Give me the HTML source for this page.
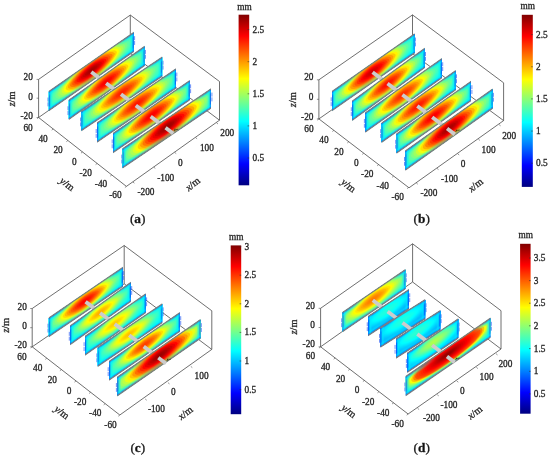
<!DOCTYPE html>
<html><head><meta charset="utf-8"><title>figure</title>
<style>html,body{margin:0;padding:0;background:#fff}svg{display:block}text{font-family:"Liberation Serif",serif;fill:#262626;stroke:#262626;stroke-width:.3px}</style>
</head><body>
<svg width="550" height="458" viewBox="0 0 550 458">
<rect width="550" height="458" fill="#fff"/>
<defs>
<polygon id="se18" points="1.000,0.000 0.986,0.120 0.944,0.261 0.876,0.406 0.785,0.545 0.673,0.673 0.545,0.785 0.406,0.876 0.261,0.944 0.120,0.986 0.000,1.000 -0.120,0.986 -0.261,0.944 -0.406,0.876 -0.545,0.785 -0.673,0.673 -0.785,0.545 -0.876,0.406 -0.944,0.261 -0.986,0.120 -1.000,0.000 -0.986,-0.120 -0.944,-0.261 -0.876,-0.406 -0.785,-0.545 -0.673,-0.673 -0.545,-0.785 -0.406,-0.876 -0.261,-0.944 -0.120,-0.986 -0.000,-1.000 0.120,-0.986 0.261,-0.944 0.406,-0.876 0.545,-0.785 0.673,-0.673 0.785,-0.545 0.876,-0.406 0.944,-0.261 0.986,-0.120"/>
<polygon id="se22" points="1.000,0.000 0.989,0.185 0.955,0.344 0.900,0.488 0.825,0.617 0.730,0.730 0.617,0.825 0.488,0.900 0.344,0.955 0.185,0.989 0.000,1.000 -0.185,0.989 -0.344,0.955 -0.488,0.900 -0.617,0.825 -0.730,0.730 -0.825,0.617 -0.900,0.488 -0.955,0.344 -0.989,0.185 -1.000,0.000 -0.989,-0.185 -0.955,-0.344 -0.900,-0.488 -0.825,-0.617 -0.730,-0.730 -0.617,-0.825 -0.488,-0.900 -0.344,-0.955 -0.185,-0.989 -0.000,-1.000 0.185,-0.989 0.344,-0.955 0.488,-0.900 0.617,-0.825 0.730,-0.730 0.825,-0.617 0.900,-0.488 0.955,-0.344 0.989,-0.185"/>
<linearGradient id="rt0" x1="0" y1="0" x2="1" y2="0"><stop offset="0" stop-color="#0048ff" stop-opacity="1"/><stop offset="0.18" stop-color="#0048ff" stop-opacity="0.7"/><stop offset="0.36" stop-color="#0048ff" stop-opacity="0"/><stop offset="0.80" stop-color="#0048ff" stop-opacity="0"/><stop offset="0.92" stop-color="#0048ff" stop-opacity="0.7"/><stop offset="1" stop-color="#0048ff" stop-opacity="1"/></linearGradient>
<linearGradient id="rb0" x1="0" y1="0" x2="1" y2="0"><stop offset="0" stop-color="#0048ff" stop-opacity="1"/><stop offset="0.2" stop-color="#0048ff" stop-opacity="0.8"/><stop offset="0.45" stop-color="#0048ff" stop-opacity="0.4"/><stop offset="0.62" stop-color="#0048ff" stop-opacity="0.4"/><stop offset="0.85" stop-color="#0048ff" stop-opacity="0.8"/><stop offset="1" stop-color="#0048ff" stop-opacity="1"/></linearGradient>
<linearGradient id="rt1" x1="0" y1="0" x2="1" y2="0"><stop offset="0" stop-color="#00a0ff" stop-opacity="1"/><stop offset="0.18" stop-color="#00a0ff" stop-opacity="0.7"/><stop offset="0.36" stop-color="#00a0ff" stop-opacity="0"/><stop offset="0.80" stop-color="#00a0ff" stop-opacity="0"/><stop offset="0.92" stop-color="#00a0ff" stop-opacity="0.7"/><stop offset="1" stop-color="#00a0ff" stop-opacity="1"/></linearGradient>
<linearGradient id="rb1" x1="0" y1="0" x2="1" y2="0"><stop offset="0" stop-color="#00a0ff" stop-opacity="1"/><stop offset="0.2" stop-color="#00a0ff" stop-opacity="0.8"/><stop offset="0.45" stop-color="#00a0ff" stop-opacity="0.4"/><stop offset="0.62" stop-color="#00a0ff" stop-opacity="0.4"/><stop offset="0.85" stop-color="#00a0ff" stop-opacity="0.8"/><stop offset="1" stop-color="#00a0ff" stop-opacity="1"/></linearGradient>
<linearGradient id="rt2" x1="0" y1="0" x2="1" y2="0"><stop offset="0" stop-color="#00ecff" stop-opacity="1"/><stop offset="0.18" stop-color="#00ecff" stop-opacity="0.7"/><stop offset="0.36" stop-color="#00ecff" stop-opacity="0"/><stop offset="0.80" stop-color="#00ecff" stop-opacity="0"/><stop offset="0.92" stop-color="#00ecff" stop-opacity="0.7"/><stop offset="1" stop-color="#00ecff" stop-opacity="1"/></linearGradient>
<linearGradient id="rb2" x1="0" y1="0" x2="1" y2="0"><stop offset="0" stop-color="#00ecff" stop-opacity="1"/><stop offset="0.2" stop-color="#00ecff" stop-opacity="0.8"/><stop offset="0.45" stop-color="#00ecff" stop-opacity="0.4"/><stop offset="0.62" stop-color="#00ecff" stop-opacity="0.4"/><stop offset="0.85" stop-color="#00ecff" stop-opacity="0.8"/><stop offset="1" stop-color="#00ecff" stop-opacity="1"/></linearGradient>
<clipPath id="c1"><rect x="0" y="0" width="103.31" height="19.00"/></clipPath>
<clipPath id="c2"><rect x="0" y="0" width="92.85" height="19.00"/></clipPath>
<clipPath id="c3"><rect x="0" y="0" width="97.24" height="19.00"/></clipPath>
<clipPath id="c4"><rect x="0" y="0" width="95.58" height="19.00"/></clipPath>
<clipPath id="c5"><rect x="0" y="0" width="92.98" height="19.00"/></clipPath>
<clipPath id="c6"><rect x="0" y="0" width="106.59" height="19.00"/></clipPath>
<linearGradient id="g7" x1="0" y1="0" x2="0" y2="1"><stop offset="0.0000" stop-color="#800000"/><stop offset="0.0625" stop-color="#bf0000"/><stop offset="0.1250" stop-color="#ff0000"/><stop offset="0.1875" stop-color="#ff4000"/><stop offset="0.2500" stop-color="#ff8000"/><stop offset="0.3125" stop-color="#ffbf00"/><stop offset="0.3750" stop-color="#ffff00"/><stop offset="0.4375" stop-color="#bfff40"/><stop offset="0.5000" stop-color="#80ff80"/><stop offset="0.5625" stop-color="#40ffbf"/><stop offset="0.6250" stop-color="#00ffff"/><stop offset="0.6875" stop-color="#00bfff"/><stop offset="0.7500" stop-color="#0080ff"/><stop offset="0.8125" stop-color="#0040ff"/><stop offset="0.8750" stop-color="#0000ff"/><stop offset="0.9375" stop-color="#0000bf"/><stop offset="1.0000" stop-color="#000080"/></linearGradient>
<clipPath id="c8"><rect x="0" y="0" width="100.42" height="19.00"/></clipPath>
<clipPath id="c9"><rect x="0" y="0" width="89.61" height="19.00"/></clipPath>
<clipPath id="c10"><rect x="0" y="0" width="93.81" height="19.00"/></clipPath>
<clipPath id="c11"><rect x="0" y="0" width="90.67" height="19.00"/></clipPath>
<clipPath id="c12"><rect x="0" y="0" width="90.94" height="19.00"/></clipPath>
<clipPath id="c13"><rect x="0" y="0" width="106.74" height="19.00"/></clipPath>
<linearGradient id="g14" x1="0" y1="0" x2="0" y2="1"><stop offset="0.0000" stop-color="#800000"/><stop offset="0.0625" stop-color="#bf0000"/><stop offset="0.1250" stop-color="#ff0000"/><stop offset="0.1875" stop-color="#ff4000"/><stop offset="0.2500" stop-color="#ff8000"/><stop offset="0.3125" stop-color="#ffbf00"/><stop offset="0.3750" stop-color="#ffff00"/><stop offset="0.4375" stop-color="#bfff40"/><stop offset="0.5000" stop-color="#80ff80"/><stop offset="0.5625" stop-color="#40ffbf"/><stop offset="0.6250" stop-color="#00ffff"/><stop offset="0.6875" stop-color="#00bfff"/><stop offset="0.7500" stop-color="#0080ff"/><stop offset="0.8125" stop-color="#0040ff"/><stop offset="0.8750" stop-color="#0000ff"/><stop offset="0.9375" stop-color="#0000bf"/><stop offset="1.0000" stop-color="#000080"/></linearGradient>
<clipPath id="c15"><rect x="0" y="0" width="89.39" height="18.60"/></clipPath>
<clipPath id="c16"><rect x="0" y="0" width="74.54" height="18.60"/></clipPath>
<clipPath id="c17"><rect x="0" y="0" width="74.10" height="18.60"/></clipPath>
<clipPath id="c18"><rect x="0" y="0" width="77.83" height="18.60"/></clipPath>
<clipPath id="c19"><rect x="0" y="0" width="85.85" height="18.60"/></clipPath>
<clipPath id="c20"><rect x="0" y="0" width="101.05" height="18.60"/></clipPath>
<linearGradient id="g21" x1="0" y1="0" x2="0" y2="1"><stop offset="0.0000" stop-color="#800000"/><stop offset="0.0625" stop-color="#bf0000"/><stop offset="0.1250" stop-color="#ff0000"/><stop offset="0.1875" stop-color="#ff4000"/><stop offset="0.2500" stop-color="#ff8000"/><stop offset="0.3125" stop-color="#ffbf00"/><stop offset="0.3750" stop-color="#ffff00"/><stop offset="0.4375" stop-color="#bfff40"/><stop offset="0.5000" stop-color="#80ff80"/><stop offset="0.5625" stop-color="#40ffbf"/><stop offset="0.6250" stop-color="#00ffff"/><stop offset="0.6875" stop-color="#00bfff"/><stop offset="0.7500" stop-color="#0080ff"/><stop offset="0.8125" stop-color="#0040ff"/><stop offset="0.8750" stop-color="#0000ff"/><stop offset="0.9375" stop-color="#0000bf"/><stop offset="1.0000" stop-color="#000080"/></linearGradient>
<clipPath id="c22"><rect x="0" y="0" width="75.80" height="19.00"/></clipPath>
<clipPath id="c23"><rect x="0" y="0" width="48.59" height="19.00"/></clipPath>
<clipPath id="c24"><rect x="0" y="0" width="52.82" height="19.00"/></clipPath>
<clipPath id="c25"><rect x="0" y="0" width="52.48" height="19.00"/></clipPath>
<clipPath id="c26"><rect x="0" y="0" width="61.32" height="19.00"/></clipPath>
<clipPath id="c27"><rect x="0" y="0" width="102.74" height="19.00"/></clipPath>
<linearGradient id="g28" x1="0" y1="0" x2="0" y2="1"><stop offset="0.0000" stop-color="#800000"/><stop offset="0.0625" stop-color="#bf0000"/><stop offset="0.1250" stop-color="#ff0000"/><stop offset="0.1875" stop-color="#ff4000"/><stop offset="0.2500" stop-color="#ff8000"/><stop offset="0.3125" stop-color="#ffbf00"/><stop offset="0.3750" stop-color="#ffff00"/><stop offset="0.4375" stop-color="#bfff40"/><stop offset="0.5000" stop-color="#80ff80"/><stop offset="0.5625" stop-color="#40ffbf"/><stop offset="0.6250" stop-color="#00ffff"/><stop offset="0.6875" stop-color="#00bfff"/><stop offset="0.7500" stop-color="#0080ff"/><stop offset="0.8125" stop-color="#0040ff"/><stop offset="0.8750" stop-color="#0000ff"/><stop offset="0.9375" stop-color="#0000bf"/><stop offset="1.0000" stop-color="#000080"/></linearGradient>
</defs>
<line x1="38.60" y1="79.40" x2="130.30" y2="15.05" stroke="#4a4a4a" stroke-width="0.8"/>
<line x1="130.30" y1="15.05" x2="219.50" y2="81.50" stroke="#4a4a4a" stroke-width="0.8"/>
<line x1="38.60" y1="79.40" x2="38.60" y2="117.50" stroke="#4a4a4a" stroke-width="0.8"/>
<line x1="130.30" y1="15.05" x2="130.30" y2="53.30" stroke="#4a4a4a" stroke-width="0.8"/>
<line x1="219.50" y1="81.50" x2="219.50" y2="120.20" stroke="#4a4a4a" stroke-width="0.8"/>
<line x1="38.60" y1="117.50" x2="130.30" y2="53.30" stroke="#4a4a4a" stroke-width="0.8"/>
<line x1="130.30" y1="53.30" x2="219.50" y2="120.20" stroke="#4a4a4a" stroke-width="0.8"/>
<line x1="38.60" y1="117.50" x2="126.40" y2="186.40" stroke="#4a4a4a" stroke-width="0.8"/>
<line x1="126.40" y1="186.40" x2="219.50" y2="120.20" stroke="#4a4a4a" stroke-width="0.8"/>
<line x1="132.90" y1="182.00" x2="134.40" y2="183.20" stroke="#4a4a4a" stroke-width="0.6"/>
<line x1="153.80" y1="167.20" x2="155.30" y2="168.40" stroke="#4a4a4a" stroke-width="0.6"/>
<line x1="174.70" y1="152.40" x2="176.20" y2="153.60" stroke="#4a4a4a" stroke-width="0.6"/>
<line x1="195.60" y1="137.60" x2="197.10" y2="138.80" stroke="#4a4a4a" stroke-width="0.6"/>
<line x1="216.50" y1="122.80" x2="218.00" y2="124.00" stroke="#4a4a4a" stroke-width="0.6"/>
<line x1="38.60" y1="117.50" x2="37.10" y2="118.70" stroke="#4a4a4a" stroke-width="0.6"/>
<line x1="53.23" y1="128.98" x2="51.73" y2="130.18" stroke="#4a4a4a" stroke-width="0.6"/>
<line x1="67.86" y1="140.46" x2="66.36" y2="141.66" stroke="#4a4a4a" stroke-width="0.6"/>
<line x1="82.49" y1="151.94" x2="80.99" y2="153.14" stroke="#4a4a4a" stroke-width="0.6"/>
<line x1="97.12" y1="163.42" x2="95.62" y2="164.62" stroke="#4a4a4a" stroke-width="0.6"/>
<line x1="111.75" y1="174.90" x2="110.25" y2="176.10" stroke="#4a4a4a" stroke-width="0.6"/>
<line x1="126.38" y1="186.38" x2="124.88" y2="187.58" stroke="#4a4a4a" stroke-width="0.6"/>
<line x1="38.60" y1="79.40" x2="36.60" y2="79.40" stroke="#4a4a4a" stroke-width="0.6"/>
<line x1="38.60" y1="98.20" x2="36.60" y2="98.20" stroke="#4a4a4a" stroke-width="0.6"/>
<line x1="38.60" y1="117.50" x2="36.60" y2="117.50" stroke="#4a4a4a" stroke-width="0.6"/>
<g transform="matrix(0.82087 -0.57112 0 1 48.90 91.60)">
<rect x="0" y="0" width="103.31" height="19.00" fill="#05fffa"/>
<g clip-path="url(#c1)">
<use href="#se18" transform="matrix(72.47 0 -3.59 23.91 51.65 8.30)" fill="#07fff8"/>
<use href="#se18" transform="matrix(69.88 0 -3.46 23.06 51.65 8.30)" fill="#0afff5"/>
<use href="#se18" transform="matrix(67.29 0 -3.33 22.21 51.65 8.30)" fill="#0dfff2"/>
<use href="#se18" transform="matrix(64.70 0 -3.20 21.35 51.65 8.30)" fill="#10ffef"/>
<use href="#se18" transform="matrix(62.12 0 -3.07 20.50 51.65 8.30)" fill="#17ffe8"/>
<use href="#se18" transform="matrix(59.53 0 -2.95 19.64 51.65 8.30)" fill="#1effe1"/>
<use href="#se18" transform="matrix(56.94 0 -2.82 18.79 51.65 8.30)" fill="#26ffd9"/>
<use href="#se18" transform="matrix(54.35 0 -2.69 17.94 51.65 8.30)" fill="#2effd1"/>
<use href="#se18" transform="matrix(51.76 0 -2.56 17.08 51.65 8.30)" fill="#3cffc3"/>
<use href="#se18" transform="matrix(49.17 0 -2.43 16.23 51.65 8.30)" fill="#4bffb4"/>
<use href="#se18" transform="matrix(46.59 0 -2.31 15.37 51.65 8.30)" fill="#5bffa4"/>
<use href="#se18" transform="matrix(44.00 0 -2.18 14.52 51.65 8.30)" fill="#73ff8c"/>
<use href="#se18" transform="matrix(41.41 0 -2.05 13.67 51.65 8.30)" fill="#8fff70"/>
<use href="#se18" transform="matrix(38.82 0 -1.92 12.81 51.65 8.30)" fill="#adff52"/>
<use href="#se18" transform="matrix(36.23 0 -1.79 11.96 51.65 8.30)" fill="#d5ff2a"/>
<use href="#se18" transform="matrix(33.65 0 -1.67 11.10 51.65 8.30)" fill="#fdff02"/>
<use href="#se18" transform="matrix(31.06 0 -1.54 10.25 51.65 8.30)" fill="#ffd600"/>
<use href="#se18" transform="matrix(28.47 0 -1.41 9.39 51.65 8.30)" fill="#ffa900"/>
<use href="#se18" transform="matrix(25.88 0 -1.28 8.54 51.65 8.30)" fill="#ff7c00"/>
<use href="#se18" transform="matrix(23.29 0 -1.15 7.69 51.65 8.30)" fill="#ff5800"/>
<use href="#se18" transform="matrix(20.71 0 -1.02 6.83 51.65 8.30)" fill="#ff3400"/>
<use href="#se18" transform="matrix(18.12 0 -0.90 5.98 51.65 8.30)" fill="#ff1000"/>
<use href="#se18" transform="matrix(15.53 0 -0.77 5.12 51.65 8.30)" fill="#f50000"/>
<use href="#se18" transform="matrix(12.94 0 -0.64 4.27 51.65 8.30)" fill="#db0000"/>
<use href="#se18" transform="matrix(10.35 0 -0.51 3.42 51.65 8.30)" fill="#c80000"/>
<use href="#se18" transform="matrix(7.76 0 -0.38 2.56 51.65 8.30)" fill="#b60000"/>
<use href="#se18" transform="matrix(5.18 0 -0.26 1.71 51.65 8.30)" fill="#ac0000"/>
<use href="#se18" transform="matrix(2.59 0 -0.13 0.85 51.65 8.30)" fill="#a30000"/>
</g>
<rect x="0.00" y="0" width="1.00" height="19.00" fill="#0048ff" fill-opacity="0.95"/>
<rect x="102.31" y="0" width="1.00" height="19.00" fill="#0048ff" fill-opacity="0.95"/>
<rect x="0" y="0.00" width="103.31" height="1.00" fill="url(#rt0)" fill-opacity="0.95"/>
<rect x="0" y="18.00" width="103.31" height="1.00" fill="url(#rb0)" fill-opacity="0.95"/>
<rect x="1.00" y="0" width="1.00" height="19.00" fill="#00a0ff" fill-opacity="0.80"/>
<rect x="101.31" y="0" width="1.00" height="19.00" fill="#00a0ff" fill-opacity="0.80"/>
<rect x="0" y="1.00" width="103.31" height="1.00" fill="url(#rt1)" fill-opacity="0.80"/>
<rect x="0" y="17.00" width="103.31" height="1.00" fill="url(#rb1)" fill-opacity="0.80"/>
<rect x="2.00" y="0" width="1.10" height="19.00" fill="#00ecff" fill-opacity="0.60"/>
<rect x="100.21" y="0" width="1.10" height="19.00" fill="#00ecff" fill-opacity="0.60"/>
<rect x="0" y="2.00" width="103.31" height="1.10" fill="url(#rt2)" fill-opacity="0.60"/>
<rect x="0" y="15.90" width="103.31" height="1.10" fill="url(#rb2)" fill-opacity="0.60"/>
<rect x="3.10" y="0" width="1.20" height="19.00" fill="#00ecff" fill-opacity="0.28"/>
<rect x="99.01" y="0" width="1.20" height="19.00" fill="#00ecff" fill-opacity="0.28"/>
<rect x="0" y="3.10" width="103.31" height="1.20" fill="url(#rt2)" fill-opacity="0.28"/>
<rect x="0" y="14.70" width="103.31" height="1.20" fill="url(#rb2)" fill-opacity="0.28"/>
<line x1="-1.1" y1="5.32" x2="-1.1" y2="14.82" stroke="#2458f5" stroke-width="0.8" stroke-dasharray="4 0.8" stroke-opacity="0.8"/>
<line x1="104.41" y1="4.18" x2="104.41" y2="13.68" stroke="#2458f5" stroke-width="0.8" stroke-dasharray="4 0.8" stroke-opacity="0.8"/>
<line x1="0" y1="0" x2="103.31" y2="0" stroke="#7e7e7e" stroke-width="1.5"/>
<line x1="0" y1="19.00" x2="103.31" y2="19.00" stroke="#7e7e7e" stroke-width="1.5"/>
</g>
<line x1="91.30" y1="72.00" x2="106.18" y2="83.16" stroke="#cccccc" stroke-width="3.8"/>
<g transform="matrix(0.81424 -0.58052 0 1 68.90 100.30)">
<rect x="0" y="0" width="92.85" height="19.00" fill="#05fffa"/>
<g clip-path="url(#c2)">
<use href="#se18" transform="matrix(68.90 0 -3.41 22.74 45.75 8.30)" fill="#06fff9"/>
<use href="#se18" transform="matrix(66.44 0 -3.29 21.93 45.75 8.30)" fill="#09fff6"/>
<use href="#se18" transform="matrix(63.98 0 -3.17 21.11 45.75 8.30)" fill="#0cfff3"/>
<use href="#se18" transform="matrix(61.52 0 -3.05 20.30 45.75 8.30)" fill="#0ffff0"/>
<use href="#se18" transform="matrix(59.06 0 -2.92 19.49 45.75 8.30)" fill="#14ffeb"/>
<use href="#se18" transform="matrix(56.60 0 -2.80 18.68 45.75 8.30)" fill="#1bffe4"/>
<use href="#se18" transform="matrix(54.14 0 -2.68 17.87 45.75 8.30)" fill="#22ffdd"/>
<use href="#se18" transform="matrix(51.68 0 -2.56 17.05 45.75 8.30)" fill="#29ffd6"/>
<use href="#se18" transform="matrix(49.22 0 -2.44 16.24 45.75 8.30)" fill="#35ffca"/>
<use href="#se18" transform="matrix(46.76 0 -2.31 15.43 45.75 8.30)" fill="#42ffbd"/>
<use href="#se18" transform="matrix(44.30 0 -2.19 14.62 45.75 8.30)" fill="#4fffb0"/>
<use href="#se18" transform="matrix(41.83 0 -2.07 13.81 45.75 8.30)" fill="#64ff9b"/>
<use href="#se18" transform="matrix(39.37 0 -1.95 12.99 45.75 8.30)" fill="#7cff83"/>
<use href="#se18" transform="matrix(36.91 0 -1.83 12.18 45.75 8.30)" fill="#96ff69"/>
<use href="#se18" transform="matrix(34.45 0 -1.71 11.37 45.75 8.30)" fill="#b9ff46"/>
<use href="#se18" transform="matrix(31.99 0 -1.58 10.56 45.75 8.30)" fill="#dcff23"/>
<use href="#se18" transform="matrix(29.53 0 -1.46 9.74 45.75 8.30)" fill="#fffd00"/>
<use href="#se18" transform="matrix(27.07 0 -1.34 8.93 45.75 8.30)" fill="#ffd600"/>
<use href="#se18" transform="matrix(24.61 0 -1.22 8.12 45.75 8.30)" fill="#ffb000"/>
<use href="#se18" transform="matrix(22.15 0 -1.10 7.31 45.75 8.30)" fill="#ff9100"/>
<use href="#se18" transform="matrix(19.69 0 -0.97 6.50 45.75 8.30)" fill="#ff7200"/>
<use href="#se18" transform="matrix(17.23 0 -0.85 5.68 45.75 8.30)" fill="#ff5300"/>
<use href="#se18" transform="matrix(14.77 0 -0.73 4.87 45.75 8.30)" fill="#ff3c00"/>
<use href="#se18" transform="matrix(12.30 0 -0.61 4.06 45.75 8.30)" fill="#ff2600"/>
<use href="#se18" transform="matrix(9.84 0 -0.49 3.25 45.75 8.30)" fill="#ff1500"/>
<use href="#se18" transform="matrix(7.38 0 -0.37 2.44 45.75 8.30)" fill="#ff0500"/>
<use href="#se18" transform="matrix(4.92 0 -0.24 1.62 45.75 8.30)" fill="#fc0000"/>
<use href="#se18" transform="matrix(2.46 0 -0.12 0.81 45.75 8.30)" fill="#f40000"/>
</g>
<rect x="0.00" y="0" width="1.00" height="19.00" fill="#0048ff" fill-opacity="0.95"/>
<rect x="91.85" y="0" width="1.00" height="19.00" fill="#0048ff" fill-opacity="0.95"/>
<rect x="0" y="0.00" width="92.85" height="1.00" fill="url(#rt0)" fill-opacity="0.95"/>
<rect x="0" y="18.00" width="92.85" height="1.00" fill="url(#rb0)" fill-opacity="0.95"/>
<rect x="1.00" y="0" width="1.00" height="19.00" fill="#00a0ff" fill-opacity="0.80"/>
<rect x="90.85" y="0" width="1.00" height="19.00" fill="#00a0ff" fill-opacity="0.80"/>
<rect x="0" y="1.00" width="92.85" height="1.00" fill="url(#rt1)" fill-opacity="0.80"/>
<rect x="0" y="17.00" width="92.85" height="1.00" fill="url(#rb1)" fill-opacity="0.80"/>
<rect x="2.00" y="0" width="1.10" height="19.00" fill="#00ecff" fill-opacity="0.60"/>
<rect x="89.75" y="0" width="1.10" height="19.00" fill="#00ecff" fill-opacity="0.60"/>
<rect x="0" y="2.00" width="92.85" height="1.10" fill="url(#rt2)" fill-opacity="0.60"/>
<rect x="0" y="15.90" width="92.85" height="1.10" fill="url(#rb2)" fill-opacity="0.60"/>
<rect x="3.10" y="0" width="1.20" height="19.00" fill="#00ecff" fill-opacity="0.28"/>
<rect x="88.55" y="0" width="1.20" height="19.00" fill="#00ecff" fill-opacity="0.28"/>
<rect x="0" y="3.10" width="92.85" height="1.20" fill="url(#rt2)" fill-opacity="0.28"/>
<rect x="0" y="14.70" width="92.85" height="1.20" fill="url(#rb2)" fill-opacity="0.28"/>
<line x1="-1.1" y1="5.32" x2="-1.1" y2="14.82" stroke="#2458f5" stroke-width="0.8" stroke-dasharray="4 0.8" stroke-opacity="0.8"/>
<line x1="93.95" y1="4.18" x2="93.95" y2="13.68" stroke="#2458f5" stroke-width="0.8" stroke-dasharray="4 0.8" stroke-opacity="0.8"/>
<line x1="0" y1="0" x2="92.85" y2="0" stroke="#7e7e7e" stroke-width="1.5"/>
<line x1="0" y1="19.00" x2="92.85" y2="19.00" stroke="#7e7e7e" stroke-width="1.5"/>
</g>
<line x1="106.15" y1="83.15" x2="121.03" y2="94.31" stroke="#cccccc" stroke-width="3.8"/>
<g transform="matrix(0.82887 -0.55944 0 1 81.50 111.60)">
<rect x="0" y="0" width="97.24" height="19.00" fill="#05fffa"/>
<g clip-path="url(#c3)">
<use href="#se18" transform="matrix(70.09 0 -3.47 23.13 48.66 8.30)" fill="#06fff9"/>
<use href="#se18" transform="matrix(67.59 0 -3.35 22.30 48.66 8.30)" fill="#09fff6"/>
<use href="#se18" transform="matrix(65.09 0 -3.22 21.48 48.66 8.30)" fill="#0bfff4"/>
<use href="#se18" transform="matrix(62.58 0 -3.10 20.65 48.66 8.30)" fill="#0efff1"/>
<use href="#se18" transform="matrix(60.08 0 -2.97 19.83 48.66 8.30)" fill="#13ffec"/>
<use href="#se18" transform="matrix(57.58 0 -2.85 19.00 48.66 8.30)" fill="#19ffe6"/>
<use href="#se18" transform="matrix(55.07 0 -2.73 18.17 48.66 8.30)" fill="#20ffdf"/>
<use href="#se18" transform="matrix(52.57 0 -2.60 17.35 48.66 8.30)" fill="#26ffd9"/>
<use href="#se18" transform="matrix(50.07 0 -2.48 16.52 48.66 8.30)" fill="#31ffce"/>
<use href="#se18" transform="matrix(47.56 0 -2.35 15.70 48.66 8.30)" fill="#3dffc2"/>
<use href="#se18" transform="matrix(45.06 0 -2.23 14.87 48.66 8.30)" fill="#49ffb6"/>
<use href="#se18" transform="matrix(42.56 0 -2.11 14.04 48.66 8.30)" fill="#5cffa3"/>
<use href="#se18" transform="matrix(40.05 0 -1.98 13.22 48.66 8.30)" fill="#73ff8c"/>
<use href="#se18" transform="matrix(37.55 0 -1.86 12.39 48.66 8.30)" fill="#8bff74"/>
<use href="#se18" transform="matrix(35.05 0 -1.73 11.57 48.66 8.30)" fill="#abff54"/>
<use href="#se18" transform="matrix(32.54 0 -1.61 10.74 48.66 8.30)" fill="#cbff34"/>
<use href="#se18" transform="matrix(30.04 0 -1.49 9.91 48.66 8.30)" fill="#edff12"/>
<use href="#se18" transform="matrix(27.54 0 -1.36 9.09 48.66 8.30)" fill="#ffed00"/>
<use href="#se18" transform="matrix(25.03 0 -1.24 8.26 48.66 8.30)" fill="#ffca00"/>
<use href="#se18" transform="matrix(22.53 0 -1.12 7.43 48.66 8.30)" fill="#ffad00"/>
<use href="#se18" transform="matrix(20.03 0 -0.99 6.61 48.66 8.30)" fill="#ff9000"/>
<use href="#se18" transform="matrix(17.52 0 -0.87 5.78 48.66 8.30)" fill="#ff7400"/>
<use href="#se18" transform="matrix(15.02 0 -0.74 4.96 48.66 8.30)" fill="#ff5e00"/>
<use href="#se18" transform="matrix(12.52 0 -0.62 4.13 48.66 8.30)" fill="#ff4a00"/>
<use href="#se18" transform="matrix(10.01 0 -0.50 3.30 48.66 8.30)" fill="#ff3b00"/>
<use href="#se18" transform="matrix(7.51 0 -0.37 2.48 48.66 8.30)" fill="#ff2c00"/>
<use href="#se18" transform="matrix(5.01 0 -0.25 1.65 48.66 8.30)" fill="#ff2500"/>
<use href="#se18" transform="matrix(2.50 0 -0.12 0.83 48.66 8.30)" fill="#ff1d00"/>
</g>
<rect x="0.00" y="0" width="1.00" height="19.00" fill="#0048ff" fill-opacity="0.95"/>
<rect x="96.24" y="0" width="1.00" height="19.00" fill="#0048ff" fill-opacity="0.95"/>
<rect x="0" y="0.00" width="97.24" height="1.00" fill="url(#rt0)" fill-opacity="0.95"/>
<rect x="0" y="18.00" width="97.24" height="1.00" fill="url(#rb0)" fill-opacity="0.95"/>
<rect x="1.00" y="0" width="1.00" height="19.00" fill="#00a0ff" fill-opacity="0.80"/>
<rect x="95.24" y="0" width="1.00" height="19.00" fill="#00a0ff" fill-opacity="0.80"/>
<rect x="0" y="1.00" width="97.24" height="1.00" fill="url(#rt1)" fill-opacity="0.80"/>
<rect x="0" y="17.00" width="97.24" height="1.00" fill="url(#rb1)" fill-opacity="0.80"/>
<rect x="2.00" y="0" width="1.10" height="19.00" fill="#00ecff" fill-opacity="0.60"/>
<rect x="94.14" y="0" width="1.10" height="19.00" fill="#00ecff" fill-opacity="0.60"/>
<rect x="0" y="2.00" width="97.24" height="1.10" fill="url(#rt2)" fill-opacity="0.60"/>
<rect x="0" y="15.90" width="97.24" height="1.10" fill="url(#rb2)" fill-opacity="0.60"/>
<rect x="3.10" y="0" width="1.20" height="19.00" fill="#00ecff" fill-opacity="0.28"/>
<rect x="92.94" y="0" width="1.20" height="19.00" fill="#00ecff" fill-opacity="0.28"/>
<rect x="0" y="3.10" width="97.24" height="1.20" fill="url(#rt2)" fill-opacity="0.28"/>
<rect x="0" y="14.70" width="97.24" height="1.20" fill="url(#rb2)" fill-opacity="0.28"/>
<line x1="-1.1" y1="5.32" x2="-1.1" y2="14.82" stroke="#2458f5" stroke-width="0.8" stroke-dasharray="4 0.8" stroke-opacity="0.8"/>
<line x1="98.34" y1="4.18" x2="98.34" y2="13.68" stroke="#2458f5" stroke-width="0.8" stroke-dasharray="4 0.8" stroke-opacity="0.8"/>
<line x1="0" y1="0" x2="97.24" y2="0" stroke="#7e7e7e" stroke-width="1.5"/>
<line x1="0" y1="19.00" x2="97.24" y2="19.00" stroke="#7e7e7e" stroke-width="1.5"/>
</g>
<line x1="121.00" y1="94.30" x2="135.88" y2="105.46" stroke="#cccccc" stroke-width="3.8"/>
<g transform="matrix(0.82441 -0.56600 0 1 97.10 123.10)">
<rect x="0" y="0" width="95.58" height="19.00" fill="#05fffa"/>
<g clip-path="url(#c4)">
<use href="#se18" transform="matrix(70.09 0 -3.47 23.13 48.00 8.30)" fill="#06fff9"/>
<use href="#se18" transform="matrix(67.59 0 -3.35 22.30 48.00 8.30)" fill="#09fff6"/>
<use href="#se18" transform="matrix(65.09 0 -3.22 21.48 48.00 8.30)" fill="#0cfff3"/>
<use href="#se18" transform="matrix(62.58 0 -3.10 20.65 48.00 8.30)" fill="#0efff1"/>
<use href="#se18" transform="matrix(60.08 0 -2.97 19.83 48.00 8.30)" fill="#13ffec"/>
<use href="#se18" transform="matrix(57.58 0 -2.85 19.00 48.00 8.30)" fill="#1affe5"/>
<use href="#se18" transform="matrix(55.07 0 -2.73 18.17 48.00 8.30)" fill="#20ffdf"/>
<use href="#se18" transform="matrix(52.57 0 -2.60 17.35 48.00 8.30)" fill="#26ffd9"/>
<use href="#se18" transform="matrix(50.07 0 -2.48 16.52 48.00 8.30)" fill="#32ffcd"/>
<use href="#se18" transform="matrix(47.56 0 -2.35 15.70 48.00 8.30)" fill="#3effc1"/>
<use href="#se18" transform="matrix(45.06 0 -2.23 14.87 48.00 8.30)" fill="#4bffb4"/>
<use href="#se18" transform="matrix(42.56 0 -2.11 14.04 48.00 8.30)" fill="#5effa1"/>
<use href="#se18" transform="matrix(40.05 0 -1.98 13.22 48.00 8.30)" fill="#75ff8a"/>
<use href="#se18" transform="matrix(37.55 0 -1.86 12.39 48.00 8.30)" fill="#8eff71"/>
<use href="#se18" transform="matrix(35.05 0 -1.73 11.57 48.00 8.30)" fill="#aeff51"/>
<use href="#se18" transform="matrix(32.54 0 -1.61 10.74 48.00 8.30)" fill="#cfff30"/>
<use href="#se18" transform="matrix(30.04 0 -1.49 9.91 48.00 8.30)" fill="#f2ff0d"/>
<use href="#se18" transform="matrix(27.54 0 -1.36 9.09 48.00 8.30)" fill="#ffe700"/>
<use href="#se18" transform="matrix(25.03 0 -1.24 8.26 48.00 8.30)" fill="#ffc300"/>
<use href="#se18" transform="matrix(22.53 0 -1.12 7.43 48.00 8.30)" fill="#ffa600"/>
<use href="#se18" transform="matrix(20.03 0 -0.99 6.61 48.00 8.30)" fill="#ff8900"/>
<use href="#se18" transform="matrix(17.52 0 -0.87 5.78 48.00 8.30)" fill="#ff6b00"/>
<use href="#se18" transform="matrix(15.02 0 -0.74 4.96 48.00 8.30)" fill="#ff5600"/>
<use href="#se18" transform="matrix(12.52 0 -0.62 4.13 48.00 8.30)" fill="#ff4100"/>
<use href="#se18" transform="matrix(10.01 0 -0.50 3.30 48.00 8.30)" fill="#ff3200"/>
<use href="#se18" transform="matrix(7.51 0 -0.37 2.48 48.00 8.30)" fill="#ff2300"/>
<use href="#se18" transform="matrix(5.01 0 -0.25 1.65 48.00 8.30)" fill="#ff1b00"/>
<use href="#se18" transform="matrix(2.50 0 -0.12 0.83 48.00 8.30)" fill="#ff1300"/>
</g>
<rect x="0.00" y="0" width="1.00" height="19.00" fill="#0048ff" fill-opacity="0.95"/>
<rect x="94.58" y="0" width="1.00" height="19.00" fill="#0048ff" fill-opacity="0.95"/>
<rect x="0" y="0.00" width="95.58" height="1.00" fill="url(#rt0)" fill-opacity="0.95"/>
<rect x="0" y="18.00" width="95.58" height="1.00" fill="url(#rb0)" fill-opacity="0.95"/>
<rect x="1.00" y="0" width="1.00" height="19.00" fill="#00a0ff" fill-opacity="0.80"/>
<rect x="93.58" y="0" width="1.00" height="19.00" fill="#00a0ff" fill-opacity="0.80"/>
<rect x="0" y="1.00" width="95.58" height="1.00" fill="url(#rt1)" fill-opacity="0.80"/>
<rect x="0" y="17.00" width="95.58" height="1.00" fill="url(#rb1)" fill-opacity="0.80"/>
<rect x="2.00" y="0" width="1.10" height="19.00" fill="#00ecff" fill-opacity="0.60"/>
<rect x="92.48" y="0" width="1.10" height="19.00" fill="#00ecff" fill-opacity="0.60"/>
<rect x="0" y="2.00" width="95.58" height="1.10" fill="url(#rt2)" fill-opacity="0.60"/>
<rect x="0" y="15.90" width="95.58" height="1.10" fill="url(#rb2)" fill-opacity="0.60"/>
<rect x="3.10" y="0" width="1.20" height="19.00" fill="#00ecff" fill-opacity="0.28"/>
<rect x="91.28" y="0" width="1.20" height="19.00" fill="#00ecff" fill-opacity="0.28"/>
<rect x="0" y="3.10" width="95.58" height="1.20" fill="url(#rt2)" fill-opacity="0.28"/>
<rect x="0" y="14.70" width="95.58" height="1.20" fill="url(#rb2)" fill-opacity="0.28"/>
<line x1="-1.1" y1="5.32" x2="-1.1" y2="14.82" stroke="#2458f5" stroke-width="0.8" stroke-dasharray="4 0.8" stroke-opacity="0.8"/>
<line x1="96.68" y1="4.18" x2="96.68" y2="13.68" stroke="#2458f5" stroke-width="0.8" stroke-dasharray="4 0.8" stroke-opacity="0.8"/>
<line x1="0" y1="0" x2="95.58" y2="0" stroke="#7e7e7e" stroke-width="1.5"/>
<line x1="0" y1="19.00" x2="95.58" y2="19.00" stroke="#7e7e7e" stroke-width="1.5"/>
</g>
<line x1="135.85" y1="105.45" x2="150.73" y2="116.61" stroke="#cccccc" stroke-width="3.8"/>
<g transform="matrix(0.82385 -0.56680 0 1 113.10 133.50)">
<rect x="0" y="0" width="92.98" height="19.00" fill="#05fffa"/>
<g clip-path="url(#c5)">
<use href="#se18" transform="matrix(71.28 0 -3.53 23.52 46.64 8.30)" fill="#06fff9"/>
<use href="#se18" transform="matrix(68.73 0 -3.40 22.68 46.64 8.30)" fill="#09fff6"/>
<use href="#se18" transform="matrix(66.19 0 -3.28 21.84 46.64 8.30)" fill="#0cfff3"/>
<use href="#se18" transform="matrix(63.64 0 -3.15 21.00 46.64 8.30)" fill="#0ffff0"/>
<use href="#se18" transform="matrix(61.10 0 -3.02 20.16 46.64 8.30)" fill="#14ffeb"/>
<use href="#se18" transform="matrix(58.55 0 -2.90 19.32 46.64 8.30)" fill="#1bffe4"/>
<use href="#se18" transform="matrix(56.01 0 -2.77 18.48 46.64 8.30)" fill="#22ffdd"/>
<use href="#se18" transform="matrix(53.46 0 -2.65 17.64 46.64 8.30)" fill="#29ffd6"/>
<use href="#se18" transform="matrix(50.91 0 -2.52 16.80 46.64 8.30)" fill="#35ffca"/>
<use href="#se18" transform="matrix(48.37 0 -2.39 15.96 46.64 8.30)" fill="#42ffbd"/>
<use href="#se18" transform="matrix(45.82 0 -2.27 15.12 46.64 8.30)" fill="#4fffb0"/>
<use href="#se18" transform="matrix(43.28 0 -2.14 14.28 46.64 8.30)" fill="#64ff9b"/>
<use href="#se18" transform="matrix(40.73 0 -2.02 13.44 46.64 8.30)" fill="#7cff83"/>
<use href="#se18" transform="matrix(38.19 0 -1.89 12.60 46.64 8.30)" fill="#96ff69"/>
<use href="#se18" transform="matrix(35.64 0 -1.76 11.76 46.64 8.30)" fill="#b9ff46"/>
<use href="#se18" transform="matrix(33.09 0 -1.64 10.92 46.64 8.30)" fill="#dcff23"/>
<use href="#se18" transform="matrix(30.55 0 -1.51 10.08 46.64 8.30)" fill="#fffd00"/>
<use href="#se18" transform="matrix(28.00 0 -1.39 9.24 46.64 8.30)" fill="#ffd600"/>
<use href="#se18" transform="matrix(25.46 0 -1.26 8.40 46.64 8.30)" fill="#ffb000"/>
<use href="#se18" transform="matrix(22.91 0 -1.13 7.56 46.64 8.30)" fill="#ff9100"/>
<use href="#se18" transform="matrix(20.37 0 -1.01 6.72 46.64 8.30)" fill="#ff7200"/>
<use href="#se18" transform="matrix(17.82 0 -0.88 5.88 46.64 8.30)" fill="#ff5300"/>
<use href="#se18" transform="matrix(15.27 0 -0.76 5.04 46.64 8.30)" fill="#ff3c00"/>
<use href="#se18" transform="matrix(12.73 0 -0.63 4.20 46.64 8.30)" fill="#ff2600"/>
<use href="#se18" transform="matrix(10.18 0 -0.50 3.36 46.64 8.30)" fill="#ff1500"/>
<use href="#se18" transform="matrix(7.64 0 -0.38 2.52 46.64 8.30)" fill="#ff0500"/>
<use href="#se18" transform="matrix(5.09 0 -0.25 1.68 46.64 8.30)" fill="#fc0000"/>
<use href="#se18" transform="matrix(2.55 0 -0.13 0.84 46.64 8.30)" fill="#f40000"/>
</g>
<rect x="0.00" y="0" width="1.00" height="19.00" fill="#0048ff" fill-opacity="0.95"/>
<rect x="91.98" y="0" width="1.00" height="19.00" fill="#0048ff" fill-opacity="0.95"/>
<rect x="0" y="0.00" width="92.98" height="1.00" fill="url(#rt0)" fill-opacity="0.95"/>
<rect x="0" y="18.00" width="92.98" height="1.00" fill="url(#rb0)" fill-opacity="0.95"/>
<rect x="1.00" y="0" width="1.00" height="19.00" fill="#00a0ff" fill-opacity="0.80"/>
<rect x="90.98" y="0" width="1.00" height="19.00" fill="#00a0ff" fill-opacity="0.80"/>
<rect x="0" y="1.00" width="92.98" height="1.00" fill="url(#rt1)" fill-opacity="0.80"/>
<rect x="0" y="17.00" width="92.98" height="1.00" fill="url(#rb1)" fill-opacity="0.80"/>
<rect x="2.00" y="0" width="1.10" height="19.00" fill="#00ecff" fill-opacity="0.60"/>
<rect x="89.88" y="0" width="1.10" height="19.00" fill="#00ecff" fill-opacity="0.60"/>
<rect x="0" y="2.00" width="92.98" height="1.10" fill="url(#rt2)" fill-opacity="0.60"/>
<rect x="0" y="15.90" width="92.98" height="1.10" fill="url(#rb2)" fill-opacity="0.60"/>
<rect x="3.10" y="0" width="1.20" height="19.00" fill="#00ecff" fill-opacity="0.28"/>
<rect x="88.68" y="0" width="1.20" height="19.00" fill="#00ecff" fill-opacity="0.28"/>
<rect x="0" y="3.10" width="92.98" height="1.20" fill="url(#rt2)" fill-opacity="0.28"/>
<rect x="0" y="14.70" width="92.98" height="1.20" fill="url(#rb2)" fill-opacity="0.28"/>
<line x1="-1.1" y1="5.32" x2="-1.1" y2="14.82" stroke="#2458f5" stroke-width="0.8" stroke-dasharray="4 0.8" stroke-opacity="0.8"/>
<line x1="94.08" y1="4.18" x2="94.08" y2="13.68" stroke="#2458f5" stroke-width="0.8" stroke-dasharray="4 0.8" stroke-opacity="0.8"/>
<line x1="0" y1="0" x2="92.98" y2="0" stroke="#7e7e7e" stroke-width="1.5"/>
<line x1="0" y1="19.00" x2="92.98" y2="19.00" stroke="#7e7e7e" stroke-width="1.5"/>
</g>
<line x1="150.70" y1="116.60" x2="165.58" y2="127.76" stroke="#cccccc" stroke-width="3.8"/>
<g transform="matrix(0.82842 -0.56010 0 1 122.70 148.70)">
<rect x="0" y="0" width="106.59" height="19.00" fill="#05fffa"/>
<g clip-path="url(#c6)">
<use href="#se18" transform="matrix(83.16 0 -4.12 27.44 53.72 8.30)" fill="#07fff8"/>
<use href="#se18" transform="matrix(80.19 0 -3.97 26.46 53.72 8.30)" fill="#0afff5"/>
<use href="#se18" transform="matrix(77.22 0 -3.82 25.48 53.72 8.30)" fill="#0dfff2"/>
<use href="#se18" transform="matrix(74.25 0 -3.68 24.50 53.72 8.30)" fill="#10ffef"/>
<use href="#se18" transform="matrix(71.28 0 -3.53 23.52 53.72 8.30)" fill="#17ffe8"/>
<use href="#se18" transform="matrix(68.31 0 -3.38 22.54 53.72 8.30)" fill="#1fffe0"/>
<use href="#se18" transform="matrix(65.34 0 -3.23 21.56 53.72 8.30)" fill="#27ffd8"/>
<use href="#se18" transform="matrix(62.37 0 -3.09 20.58 53.72 8.30)" fill="#2fffd0"/>
<use href="#se18" transform="matrix(59.40 0 -2.94 19.60 53.72 8.30)" fill="#3dffc2"/>
<use href="#se18" transform="matrix(56.43 0 -2.79 18.62 53.72 8.30)" fill="#4dffb2"/>
<use href="#se18" transform="matrix(53.46 0 -2.65 17.64 53.72 8.30)" fill="#5cffa3"/>
<use href="#se18" transform="matrix(50.49 0 -2.50 16.66 53.72 8.30)" fill="#75ff8a"/>
<use href="#se18" transform="matrix(47.52 0 -2.35 15.68 53.72 8.30)" fill="#91ff6e"/>
<use href="#se18" transform="matrix(44.55 0 -2.21 14.70 53.72 8.30)" fill="#b0ff4f"/>
<use href="#se18" transform="matrix(41.58 0 -2.06 13.72 53.72 8.30)" fill="#d9ff26"/>
<use href="#se18" transform="matrix(38.61 0 -1.91 12.74 53.72 8.30)" fill="#fffc00"/>
<use href="#se18" transform="matrix(35.64 0 -1.76 11.76 53.72 8.30)" fill="#ffd100"/>
<use href="#se18" transform="matrix(32.67 0 -1.62 10.78 53.72 8.30)" fill="#ffa300"/>
<use href="#se18" transform="matrix(29.70 0 -1.47 9.80 53.72 8.30)" fill="#ff7600"/>
<use href="#se18" transform="matrix(26.73 0 -1.32 8.82 53.72 8.30)" fill="#ff5100"/>
<use href="#se18" transform="matrix(23.76 0 -1.18 7.84 53.72 8.30)" fill="#ff2d00"/>
<use href="#se18" transform="matrix(20.79 0 -1.03 6.86 53.72 8.30)" fill="#ff0800"/>
<use href="#se18" transform="matrix(17.82 0 -0.88 5.88 53.72 8.30)" fill="#ec0000"/>
<use href="#se18" transform="matrix(14.85 0 -0.74 4.90 53.72 8.30)" fill="#d20000"/>
<use href="#se18" transform="matrix(11.88 0 -0.59 3.92 53.72 8.30)" fill="#bf0000"/>
<use href="#se18" transform="matrix(8.91 0 -0.44 2.94 53.72 8.30)" fill="#ac0000"/>
<use href="#se18" transform="matrix(5.94 0 -0.29 1.96 53.72 8.30)" fill="#a20000"/>
<use href="#se18" transform="matrix(2.97 0 -0.15 0.98 53.72 8.30)" fill="#990000"/>
</g>
<rect x="0.00" y="0" width="1.00" height="19.00" fill="#0048ff" fill-opacity="0.95"/>
<rect x="105.59" y="0" width="1.00" height="19.00" fill="#0048ff" fill-opacity="0.95"/>
<rect x="0" y="0.00" width="106.59" height="1.00" fill="url(#rt0)" fill-opacity="0.95"/>
<rect x="0" y="18.00" width="106.59" height="1.00" fill="url(#rb0)" fill-opacity="0.95"/>
<rect x="1.00" y="0" width="1.00" height="19.00" fill="#00a0ff" fill-opacity="0.80"/>
<rect x="104.59" y="0" width="1.00" height="19.00" fill="#00a0ff" fill-opacity="0.80"/>
<rect x="0" y="1.00" width="106.59" height="1.00" fill="url(#rt1)" fill-opacity="0.80"/>
<rect x="0" y="17.00" width="106.59" height="1.00" fill="url(#rb1)" fill-opacity="0.80"/>
<rect x="2.00" y="0" width="1.10" height="19.00" fill="#00ecff" fill-opacity="0.60"/>
<rect x="103.49" y="0" width="1.10" height="19.00" fill="#00ecff" fill-opacity="0.60"/>
<rect x="0" y="2.00" width="106.59" height="1.10" fill="url(#rt2)" fill-opacity="0.60"/>
<rect x="0" y="15.90" width="106.59" height="1.10" fill="url(#rb2)" fill-opacity="0.60"/>
<rect x="3.10" y="0" width="1.20" height="19.00" fill="#00ecff" fill-opacity="0.28"/>
<rect x="102.29" y="0" width="1.20" height="19.00" fill="#00ecff" fill-opacity="0.28"/>
<rect x="0" y="3.10" width="106.59" height="1.20" fill="url(#rt2)" fill-opacity="0.28"/>
<rect x="0" y="14.70" width="106.59" height="1.20" fill="url(#rb2)" fill-opacity="0.28"/>
<line x1="-1.1" y1="5.32" x2="-1.1" y2="14.82" stroke="#2458f5" stroke-width="0.8" stroke-dasharray="4 0.8" stroke-opacity="0.8"/>
<line x1="107.69" y1="4.18" x2="107.69" y2="13.68" stroke="#2458f5" stroke-width="0.8" stroke-dasharray="4 0.8" stroke-opacity="0.8"/>
<line x1="0" y1="0" x2="106.59" y2="0" stroke="#7e7e7e" stroke-width="1.5"/>
<line x1="0" y1="19.00" x2="106.59" y2="19.00" stroke="#7e7e7e" stroke-width="1.5"/>
</g>
<line x1="165.55" y1="127.75" x2="173.23" y2="133.51" stroke="#cccccc" stroke-width="3.8"/>
<path d="M174.2 131.2l1.1 -2.4m-0.9 0.3l1.2 1m0.2 -0.4l2.4 -0.5" stroke="#33300a" stroke-width="0.7" fill="none"/>
<text x="32.90" y="79.77" font-size="9.3" text-anchor="end">20</text>
<text x="32.90" y="99.77" font-size="9.3" text-anchor="end">0</text>
<text x="32.90" y="119.27" font-size="9.3" text-anchor="end">-20</text>
<text font-size="10.3" text-anchor="middle" transform="translate(11.90 99.00) rotate(-90)" y="3.40"><tspan font-style="italic">z</tspan>/m</text>
<text x="28.10" y="130.67" font-size="9.3" text-anchor="middle">60</text>
<text x="43.10" y="141.97" font-size="9.3" text-anchor="middle">40</text>
<text x="58.10" y="153.27" font-size="9.3" text-anchor="middle">20</text>
<text x="74.40" y="164.57" font-size="9.3" text-anchor="middle">0</text>
<text x="85.60" y="175.87" font-size="9.3" text-anchor="middle">-20</text>
<text x="101.00" y="187.27" font-size="9.3" text-anchor="middle">-40</text>
<text x="115.40" y="198.37" font-size="9.3" text-anchor="middle">-60</text>
<text font-size="10.3" text-anchor="middle" transform="translate(67.20 184.00) rotate(38)" y="3.40"><tspan font-style="italic">y</tspan>/m</text>
<text x="146.00" y="195.47" font-size="9.3" text-anchor="middle">-200</text>
<text x="165.70" y="180.77" font-size="9.3" text-anchor="middle">-100</text>
<text x="180.30" y="165.57" font-size="9.3" text-anchor="middle">0</text>
<text x="206.90" y="151.07" font-size="9.3" text-anchor="middle">100</text>
<text x="227.30" y="135.67" font-size="9.3" text-anchor="middle">200</text>
<text font-size="10.3" text-anchor="middle" transform="translate(192.70 184.00) rotate(-38)" y="3.40"><tspan font-style="italic">x</tspan>/m</text>
<rect x="238.60" y="14.70" width="10.60" height="170.60" fill="url(#g7)"/>
<line x1="247.60" y1="29.60" x2="249.20" y2="29.60" stroke="#303030" stroke-width="0.6"/>
<text x="252.50" y="32.67" font-size="9.3" text-anchor="start">2.5</text>
<line x1="247.60" y1="61.70" x2="249.20" y2="61.70" stroke="#303030" stroke-width="0.6"/>
<text x="252.50" y="64.77" font-size="9.3" text-anchor="start">2</text>
<line x1="247.60" y1="93.80" x2="249.20" y2="93.80" stroke="#303030" stroke-width="0.6"/>
<text x="252.50" y="96.87" font-size="9.3" text-anchor="start">1.5</text>
<line x1="247.60" y1="125.90" x2="249.20" y2="125.90" stroke="#303030" stroke-width="0.6"/>
<text x="252.50" y="128.97" font-size="9.3" text-anchor="start">1</text>
<line x1="247.60" y1="158.00" x2="249.20" y2="158.00" stroke="#303030" stroke-width="0.6"/>
<text x="252.50" y="161.07" font-size="9.3" text-anchor="start">0.5</text>
<text x="244.40" y="9.60" font-size="9.3" text-anchor="middle">mm</text>
<text x="137.70" y="222.90" font-size="13.3" text-anchor="middle" style="fill:#111">(<tspan font-weight="bold">a</tspan>)</text>
<line x1="318.90" y1="79.80" x2="412.50" y2="14.90" stroke="#4a4a4a" stroke-width="0.8"/>
<line x1="412.50" y1="14.90" x2="503.60" y2="82.80" stroke="#4a4a4a" stroke-width="0.8"/>
<line x1="318.90" y1="79.80" x2="318.90" y2="118.90" stroke="#4a4a4a" stroke-width="0.8"/>
<line x1="412.50" y1="14.90" x2="412.50" y2="53.60" stroke="#4a4a4a" stroke-width="0.8"/>
<line x1="503.60" y1="82.80" x2="503.60" y2="120.60" stroke="#4a4a4a" stroke-width="0.8"/>
<line x1="318.90" y1="118.90" x2="412.50" y2="53.60" stroke="#4a4a4a" stroke-width="0.8"/>
<line x1="412.50" y1="53.60" x2="503.60" y2="120.60" stroke="#4a4a4a" stroke-width="0.8"/>
<line x1="318.90" y1="118.90" x2="409.00" y2="187.80" stroke="#4a4a4a" stroke-width="0.8"/>
<line x1="409.00" y1="187.80" x2="503.60" y2="120.60" stroke="#4a4a4a" stroke-width="0.8"/>
<line x1="416.30" y1="183.00" x2="417.80" y2="184.20" stroke="#4a4a4a" stroke-width="0.6"/>
<line x1="437.00" y1="168.40" x2="438.50" y2="169.60" stroke="#4a4a4a" stroke-width="0.6"/>
<line x1="457.70" y1="153.80" x2="459.20" y2="155.00" stroke="#4a4a4a" stroke-width="0.6"/>
<line x1="478.40" y1="139.20" x2="479.90" y2="140.40" stroke="#4a4a4a" stroke-width="0.6"/>
<line x1="499.10" y1="124.60" x2="500.60" y2="125.80" stroke="#4a4a4a" stroke-width="0.6"/>
<line x1="318.90" y1="118.90" x2="317.40" y2="120.10" stroke="#4a4a4a" stroke-width="0.6"/>
<line x1="333.85" y1="130.33" x2="332.35" y2="131.53" stroke="#4a4a4a" stroke-width="0.6"/>
<line x1="348.80" y1="141.76" x2="347.30" y2="142.96" stroke="#4a4a4a" stroke-width="0.6"/>
<line x1="363.75" y1="153.19" x2="362.25" y2="154.39" stroke="#4a4a4a" stroke-width="0.6"/>
<line x1="378.70" y1="164.62" x2="377.20" y2="165.82" stroke="#4a4a4a" stroke-width="0.6"/>
<line x1="393.65" y1="176.05" x2="392.15" y2="177.25" stroke="#4a4a4a" stroke-width="0.6"/>
<line x1="408.60" y1="187.48" x2="407.10" y2="188.68" stroke="#4a4a4a" stroke-width="0.6"/>
<line x1="318.90" y1="79.80" x2="316.90" y2="79.80" stroke="#4a4a4a" stroke-width="0.6"/>
<line x1="318.90" y1="99.30" x2="316.90" y2="99.30" stroke="#4a4a4a" stroke-width="0.6"/>
<line x1="318.90" y1="118.90" x2="316.90" y2="118.90" stroke="#4a4a4a" stroke-width="0.6"/>
<g transform="matrix(0.82054 -0.57159 0 1 332.10 91.40)">
<rect x="0" y="0" width="100.42" height="19.00" fill="#00f0ff"/>
<g clip-path="url(#c8)">
<use href="#se18" transform="matrix(73.66 0 -3.65 24.31 48.36 8.30)" fill="#00f1ff"/>
<use href="#se18" transform="matrix(71.03 0 -3.52 23.44 48.36 8.30)" fill="#00f4ff"/>
<use href="#se18" transform="matrix(68.39 0 -3.39 22.57 48.36 8.30)" fill="#00f7ff"/>
<use href="#se18" transform="matrix(65.76 0 -3.26 21.70 48.36 8.30)" fill="#00faff"/>
<use href="#se18" transform="matrix(63.13 0 -3.13 20.83 48.36 8.30)" fill="#02fffd"/>
<use href="#se18" transform="matrix(60.50 0 -2.99 19.97 48.36 8.30)" fill="#09fff6"/>
<use href="#se18" transform="matrix(57.87 0 -2.86 19.10 48.36 8.30)" fill="#11ffee"/>
<use href="#se18" transform="matrix(55.24 0 -2.73 18.23 48.36 8.30)" fill="#18ffe7"/>
<use href="#se18" transform="matrix(52.61 0 -2.60 17.36 48.36 8.30)" fill="#26ffd9"/>
<use href="#se18" transform="matrix(49.98 0 -2.47 16.49 48.36 8.30)" fill="#35ffca"/>
<use href="#se18" transform="matrix(47.35 0 -2.34 15.63 48.36 8.30)" fill="#43ffbc"/>
<use href="#se18" transform="matrix(44.72 0 -2.21 14.76 48.36 8.30)" fill="#5bffa4"/>
<use href="#se18" transform="matrix(42.09 0 -2.08 13.89 48.36 8.30)" fill="#76ff89"/>
<use href="#se18" transform="matrix(39.46 0 -1.95 13.02 48.36 8.30)" fill="#93ff6c"/>
<use href="#se18" transform="matrix(36.83 0 -1.82 12.15 48.36 8.30)" fill="#baff45"/>
<use href="#se18" transform="matrix(34.20 0 -1.69 11.29 48.36 8.30)" fill="#e1ff1e"/>
<use href="#se18" transform="matrix(31.57 0 -1.56 10.42 48.36 8.30)" fill="#fff400"/>
<use href="#se18" transform="matrix(28.94 0 -1.43 9.55 48.36 8.30)" fill="#ffc800"/>
<use href="#se18" transform="matrix(26.31 0 -1.30 8.68 48.36 8.30)" fill="#ff9d00"/>
<use href="#se18" transform="matrix(23.68 0 -1.17 7.81 48.36 8.30)" fill="#ff7b00"/>
<use href="#se18" transform="matrix(21.04 0 -1.04 6.94 48.36 8.30)" fill="#ff5800"/>
<use href="#se18" transform="matrix(18.41 0 -0.91 6.08 48.36 8.30)" fill="#ff3500"/>
<use href="#se18" transform="matrix(15.78 0 -0.78 5.21 48.36 8.30)" fill="#ff1c00"/>
<use href="#se18" transform="matrix(13.15 0 -0.65 4.34 48.36 8.30)" fill="#ff0300"/>
<use href="#se18" transform="matrix(10.52 0 -0.52 3.47 48.36 8.30)" fill="#f00000"/>
<use href="#se18" transform="matrix(7.89 0 -0.39 2.60 48.36 8.30)" fill="#de0000"/>
<use href="#se18" transform="matrix(5.26 0 -0.26 1.74 48.36 8.30)" fill="#d50000"/>
<use href="#se18" transform="matrix(2.63 0 -0.13 0.87 48.36 8.30)" fill="#cb0000"/>
</g>
<rect x="0.00" y="0" width="1.00" height="19.00" fill="#0048ff" fill-opacity="0.95"/>
<rect x="99.42" y="0" width="1.00" height="19.00" fill="#0048ff" fill-opacity="0.95"/>
<rect x="0" y="0.00" width="100.42" height="1.00" fill="url(#rt0)" fill-opacity="0.95"/>
<rect x="0" y="18.00" width="100.42" height="1.00" fill="url(#rb0)" fill-opacity="0.95"/>
<rect x="1.00" y="0" width="1.00" height="19.00" fill="#00a0ff" fill-opacity="0.80"/>
<rect x="98.42" y="0" width="1.00" height="19.00" fill="#00a0ff" fill-opacity="0.80"/>
<rect x="0" y="1.00" width="100.42" height="1.00" fill="url(#rt1)" fill-opacity="0.80"/>
<rect x="0" y="17.00" width="100.42" height="1.00" fill="url(#rb1)" fill-opacity="0.80"/>
<rect x="2.00" y="0" width="1.10" height="19.00" fill="#00ecff" fill-opacity="0.60"/>
<rect x="97.32" y="0" width="1.10" height="19.00" fill="#00ecff" fill-opacity="0.60"/>
<rect x="0" y="2.00" width="100.42" height="1.10" fill="url(#rt2)" fill-opacity="0.60"/>
<rect x="0" y="15.90" width="100.42" height="1.10" fill="url(#rb2)" fill-opacity="0.60"/>
<rect x="3.10" y="0" width="1.20" height="19.00" fill="#00ecff" fill-opacity="0.28"/>
<rect x="96.12" y="0" width="1.20" height="19.00" fill="#00ecff" fill-opacity="0.28"/>
<rect x="0" y="3.10" width="100.42" height="1.20" fill="url(#rt2)" fill-opacity="0.28"/>
<rect x="0" y="14.70" width="100.42" height="1.20" fill="url(#rb2)" fill-opacity="0.28"/>
<line x1="-1.1" y1="5.32" x2="-1.1" y2="14.82" stroke="#2458f5" stroke-width="0.8" stroke-dasharray="4 0.8" stroke-opacity="0.8"/>
<line x1="101.52" y1="4.18" x2="101.52" y2="13.68" stroke="#2458f5" stroke-width="0.8" stroke-dasharray="4 0.8" stroke-opacity="0.8"/>
<line x1="0" y1="0" x2="100.42" y2="0" stroke="#7e7e7e" stroke-width="1.5"/>
<line x1="0" y1="19.00" x2="100.42" y2="19.00" stroke="#7e7e7e" stroke-width="1.5"/>
</g>
<line x1="372.60" y1="72.30" x2="387.56" y2="83.52" stroke="#cccccc" stroke-width="3.8"/>
<g transform="matrix(0.80796 -0.58923 0 1 352.20 101.30)">
<rect x="0" y="0" width="89.61" height="19.00" fill="#00f0ff"/>
<g clip-path="url(#c9)">
<use href="#se18" transform="matrix(68.90 0 -3.41 22.74 43.69 8.30)" fill="#00f1ff"/>
<use href="#se18" transform="matrix(66.44 0 -3.29 21.93 43.69 8.30)" fill="#00f4ff"/>
<use href="#se18" transform="matrix(63.98 0 -3.17 21.11 43.69 8.30)" fill="#00f7ff"/>
<use href="#se18" transform="matrix(61.52 0 -3.05 20.30 43.69 8.30)" fill="#00f9ff"/>
<use href="#se18" transform="matrix(59.06 0 -2.92 19.49 43.69 8.30)" fill="#00ffff"/>
<use href="#se18" transform="matrix(56.60 0 -2.80 18.68 43.69 8.30)" fill="#07fff8"/>
<use href="#se18" transform="matrix(54.14 0 -2.68 17.87 43.69 8.30)" fill="#0dfff2"/>
<use href="#se18" transform="matrix(51.68 0 -2.56 17.05 43.69 8.30)" fill="#14ffeb"/>
<use href="#se18" transform="matrix(49.22 0 -2.44 16.24 43.69 8.30)" fill="#20ffdf"/>
<use href="#se18" transform="matrix(46.76 0 -2.31 15.43 43.69 8.30)" fill="#2dffd2"/>
<use href="#se18" transform="matrix(44.30 0 -2.19 14.62 43.69 8.30)" fill="#3bffc4"/>
<use href="#se18" transform="matrix(41.83 0 -2.07 13.81 43.69 8.30)" fill="#4fffb0"/>
<use href="#se18" transform="matrix(39.37 0 -1.95 12.99 43.69 8.30)" fill="#68ff97"/>
<use href="#se18" transform="matrix(36.91 0 -1.83 12.18 43.69 8.30)" fill="#82ff7d"/>
<use href="#se18" transform="matrix(34.45 0 -1.71 11.37 43.69 8.30)" fill="#a5ff5a"/>
<use href="#se18" transform="matrix(31.99 0 -1.58 10.56 43.69 8.30)" fill="#c7ff38"/>
<use href="#se18" transform="matrix(29.53 0 -1.46 9.74 43.69 8.30)" fill="#edff12"/>
<use href="#se18" transform="matrix(27.07 0 -1.34 8.93 43.69 8.30)" fill="#ffeb00"/>
<use href="#se18" transform="matrix(24.61 0 -1.22 8.12 43.69 8.30)" fill="#ffc400"/>
<use href="#se18" transform="matrix(22.15 0 -1.10 7.31 43.69 8.30)" fill="#ffa500"/>
<use href="#se18" transform="matrix(19.69 0 -0.97 6.50 43.69 8.30)" fill="#ff8600"/>
<use href="#se18" transform="matrix(17.23 0 -0.85 5.68 43.69 8.30)" fill="#ff6700"/>
<use href="#se18" transform="matrix(14.77 0 -0.73 4.87 43.69 8.30)" fill="#ff5000"/>
<use href="#se18" transform="matrix(12.30 0 -0.61 4.06 43.69 8.30)" fill="#ff3a00"/>
<use href="#se18" transform="matrix(9.84 0 -0.49 3.25 43.69 8.30)" fill="#ff2a00"/>
<use href="#se18" transform="matrix(7.38 0 -0.37 2.44 43.69 8.30)" fill="#ff1a00"/>
<use href="#se18" transform="matrix(4.92 0 -0.24 1.62 43.69 8.30)" fill="#ff1100"/>
<use href="#se18" transform="matrix(2.46 0 -0.12 0.81 43.69 8.30)" fill="#ff0900"/>
</g>
<rect x="0.00" y="0" width="1.00" height="19.00" fill="#0048ff" fill-opacity="0.95"/>
<rect x="88.61" y="0" width="1.00" height="19.00" fill="#0048ff" fill-opacity="0.95"/>
<rect x="0" y="0.00" width="89.61" height="1.00" fill="url(#rt0)" fill-opacity="0.95"/>
<rect x="0" y="18.00" width="89.61" height="1.00" fill="url(#rb0)" fill-opacity="0.95"/>
<rect x="1.00" y="0" width="1.00" height="19.00" fill="#00a0ff" fill-opacity="0.80"/>
<rect x="87.61" y="0" width="1.00" height="19.00" fill="#00a0ff" fill-opacity="0.80"/>
<rect x="0" y="1.00" width="89.61" height="1.00" fill="url(#rt1)" fill-opacity="0.80"/>
<rect x="0" y="17.00" width="89.61" height="1.00" fill="url(#rb1)" fill-opacity="0.80"/>
<rect x="2.00" y="0" width="1.10" height="19.00" fill="#00ecff" fill-opacity="0.60"/>
<rect x="86.51" y="0" width="1.10" height="19.00" fill="#00ecff" fill-opacity="0.60"/>
<rect x="0" y="2.00" width="89.61" height="1.10" fill="url(#rt2)" fill-opacity="0.60"/>
<rect x="0" y="15.90" width="89.61" height="1.10" fill="url(#rb2)" fill-opacity="0.60"/>
<rect x="3.10" y="0" width="1.20" height="19.00" fill="#00ecff" fill-opacity="0.28"/>
<rect x="85.31" y="0" width="1.20" height="19.00" fill="#00ecff" fill-opacity="0.28"/>
<rect x="0" y="3.10" width="89.61" height="1.20" fill="url(#rt2)" fill-opacity="0.28"/>
<rect x="0" y="14.70" width="89.61" height="1.20" fill="url(#rb2)" fill-opacity="0.28"/>
<line x1="-1.1" y1="5.32" x2="-1.1" y2="14.82" stroke="#2458f5" stroke-width="0.8" stroke-dasharray="4 0.8" stroke-opacity="0.8"/>
<line x1="90.71" y1="4.18" x2="90.71" y2="13.68" stroke="#2458f5" stroke-width="0.8" stroke-dasharray="4 0.8" stroke-opacity="0.8"/>
<line x1="0" y1="0" x2="89.61" y2="0" stroke="#7e7e7e" stroke-width="1.5"/>
<line x1="0" y1="19.00" x2="89.61" y2="19.00" stroke="#7e7e7e" stroke-width="1.5"/>
</g>
<line x1="387.50" y1="83.56" x2="402.46" y2="94.78" stroke="#cccccc" stroke-width="3.8"/>
<g transform="matrix(0.81546 -0.57882 0 1 365.30 113.00)">
<rect x="0" y="0" width="93.81" height="19.00" fill="#00f0ff"/>
<g clip-path="url(#c10)">
<use href="#se18" transform="matrix(70.09 0 -3.47 23.13 45.50 8.30)" fill="#00f1ff"/>
<use href="#se18" transform="matrix(67.59 0 -3.35 22.30 45.50 8.30)" fill="#00f4ff"/>
<use href="#se18" transform="matrix(65.09 0 -3.22 21.48 45.50 8.30)" fill="#00f6ff"/>
<use href="#se18" transform="matrix(62.58 0 -3.10 20.65 45.50 8.30)" fill="#00f9ff"/>
<use href="#se18" transform="matrix(60.08 0 -2.97 19.83 45.50 8.30)" fill="#00feff"/>
<use href="#se18" transform="matrix(57.58 0 -2.85 19.00 45.50 8.30)" fill="#05fffa"/>
<use href="#se18" transform="matrix(55.07 0 -2.73 18.17 45.50 8.30)" fill="#0cfff3"/>
<use href="#se18" transform="matrix(52.57 0 -2.60 17.35 45.50 8.30)" fill="#12ffed"/>
<use href="#se18" transform="matrix(50.07 0 -2.48 16.52 45.50 8.30)" fill="#1effe1"/>
<use href="#se18" transform="matrix(47.56 0 -2.35 15.70 45.50 8.30)" fill="#2affd5"/>
<use href="#se18" transform="matrix(45.06 0 -2.23 14.87 45.50 8.30)" fill="#36ffc9"/>
<use href="#se18" transform="matrix(42.56 0 -2.11 14.04 45.50 8.30)" fill="#4affb5"/>
<use href="#se18" transform="matrix(40.05 0 -1.98 13.22 45.50 8.30)" fill="#61ff9e"/>
<use href="#se18" transform="matrix(37.55 0 -1.86 12.39 45.50 8.30)" fill="#79ff86"/>
<use href="#se18" transform="matrix(35.05 0 -1.73 11.57 45.50 8.30)" fill="#9aff65"/>
<use href="#se18" transform="matrix(32.54 0 -1.61 10.74 45.50 8.30)" fill="#bbff44"/>
<use href="#se18" transform="matrix(30.04 0 -1.49 9.91 45.50 8.30)" fill="#deff21"/>
<use href="#se18" transform="matrix(27.54 0 -1.36 9.09 45.50 8.30)" fill="#fffc00"/>
<use href="#se18" transform="matrix(25.03 0 -1.24 8.26 45.50 8.30)" fill="#ffd800"/>
<use href="#se18" transform="matrix(22.53 0 -1.12 7.43 45.50 8.30)" fill="#ffba00"/>
<use href="#se18" transform="matrix(20.03 0 -0.99 6.61 45.50 8.30)" fill="#ff9d00"/>
<use href="#se18" transform="matrix(17.52 0 -0.87 5.78 45.50 8.30)" fill="#ff8000"/>
<use href="#se18" transform="matrix(15.02 0 -0.74 4.96 45.50 8.30)" fill="#ff6a00"/>
<use href="#se18" transform="matrix(12.52 0 -0.62 4.13 45.50 8.30)" fill="#ff5600"/>
<use href="#se18" transform="matrix(10.01 0 -0.50 3.30 45.50 8.30)" fill="#ff4600"/>
<use href="#se18" transform="matrix(7.51 0 -0.37 2.48 45.50 8.30)" fill="#ff3700"/>
<use href="#se18" transform="matrix(5.01 0 -0.25 1.65 45.50 8.30)" fill="#ff2f00"/>
<use href="#se18" transform="matrix(2.50 0 -0.12 0.83 45.50 8.30)" fill="#ff2800"/>
</g>
<rect x="0.00" y="0" width="1.00" height="19.00" fill="#0048ff" fill-opacity="0.95"/>
<rect x="92.81" y="0" width="1.00" height="19.00" fill="#0048ff" fill-opacity="0.95"/>
<rect x="0" y="0.00" width="93.81" height="1.00" fill="url(#rt0)" fill-opacity="0.95"/>
<rect x="0" y="18.00" width="93.81" height="1.00" fill="url(#rb0)" fill-opacity="0.95"/>
<rect x="1.00" y="0" width="1.00" height="19.00" fill="#00a0ff" fill-opacity="0.80"/>
<rect x="91.81" y="0" width="1.00" height="19.00" fill="#00a0ff" fill-opacity="0.80"/>
<rect x="0" y="1.00" width="93.81" height="1.00" fill="url(#rt1)" fill-opacity="0.80"/>
<rect x="0" y="17.00" width="93.81" height="1.00" fill="url(#rb1)" fill-opacity="0.80"/>
<rect x="2.00" y="0" width="1.10" height="19.00" fill="#00ecff" fill-opacity="0.60"/>
<rect x="90.71" y="0" width="1.10" height="19.00" fill="#00ecff" fill-opacity="0.60"/>
<rect x="0" y="2.00" width="93.81" height="1.10" fill="url(#rt2)" fill-opacity="0.60"/>
<rect x="0" y="15.90" width="93.81" height="1.10" fill="url(#rb2)" fill-opacity="0.60"/>
<rect x="3.10" y="0" width="1.20" height="19.00" fill="#00ecff" fill-opacity="0.28"/>
<rect x="89.51" y="0" width="1.20" height="19.00" fill="#00ecff" fill-opacity="0.28"/>
<rect x="0" y="3.10" width="93.81" height="1.20" fill="url(#rt2)" fill-opacity="0.28"/>
<rect x="0" y="14.70" width="93.81" height="1.20" fill="url(#rb2)" fill-opacity="0.28"/>
<line x1="-1.1" y1="5.32" x2="-1.1" y2="14.82" stroke="#2458f5" stroke-width="0.8" stroke-dasharray="4 0.8" stroke-opacity="0.8"/>
<line x1="94.91" y1="4.18" x2="94.91" y2="13.68" stroke="#2458f5" stroke-width="0.8" stroke-dasharray="4 0.8" stroke-opacity="0.8"/>
<line x1="0" y1="0" x2="93.81" y2="0" stroke="#7e7e7e" stroke-width="1.5"/>
<line x1="0" y1="19.00" x2="93.81" y2="19.00" stroke="#7e7e7e" stroke-width="1.5"/>
</g>
<line x1="402.40" y1="94.82" x2="417.36" y2="106.04" stroke="#cccccc" stroke-width="3.8"/>
<g transform="matrix(0.81611 -0.57789 0 1 381.60 123.20)">
<rect x="0" y="0" width="90.67" height="19.00" fill="#00f0ff"/>
<g clip-path="url(#c11)">
<use href="#se18" transform="matrix(70.09 0 -3.47 23.13 44.74 8.30)" fill="#00f1ff"/>
<use href="#se18" transform="matrix(67.59 0 -3.35 22.30 44.74 8.30)" fill="#00f4ff"/>
<use href="#se18" transform="matrix(65.09 0 -3.22 21.48 44.74 8.30)" fill="#00f6ff"/>
<use href="#se18" transform="matrix(62.58 0 -3.10 20.65 44.74 8.30)" fill="#00f9ff"/>
<use href="#se18" transform="matrix(60.08 0 -2.97 19.83 44.74 8.30)" fill="#00feff"/>
<use href="#se18" transform="matrix(57.58 0 -2.85 19.00 44.74 8.30)" fill="#06fff9"/>
<use href="#se18" transform="matrix(55.07 0 -2.73 18.17 44.74 8.30)" fill="#0dfff2"/>
<use href="#se18" transform="matrix(52.57 0 -2.60 17.35 44.74 8.30)" fill="#13ffec"/>
<use href="#se18" transform="matrix(50.07 0 -2.48 16.52 44.74 8.30)" fill="#1fffe0"/>
<use href="#se18" transform="matrix(47.56 0 -2.35 15.70 44.74 8.30)" fill="#2cffd3"/>
<use href="#se18" transform="matrix(45.06 0 -2.23 14.87 44.74 8.30)" fill="#39ffc6"/>
<use href="#se18" transform="matrix(42.56 0 -2.11 14.04 44.74 8.30)" fill="#4effb1"/>
<use href="#se18" transform="matrix(40.05 0 -1.98 13.22 44.74 8.30)" fill="#66ff99"/>
<use href="#se18" transform="matrix(37.55 0 -1.86 12.39 44.74 8.30)" fill="#7fff80"/>
<use href="#se18" transform="matrix(35.05 0 -1.73 11.57 44.74 8.30)" fill="#a1ff5e"/>
<use href="#se18" transform="matrix(32.54 0 -1.61 10.74 44.74 8.30)" fill="#c3ff3c"/>
<use href="#se18" transform="matrix(30.04 0 -1.49 9.91 44.74 8.30)" fill="#e8ff17"/>
<use href="#se18" transform="matrix(27.54 0 -1.36 9.09 44.74 8.30)" fill="#fff000"/>
<use href="#se18" transform="matrix(25.03 0 -1.24 8.26 44.74 8.30)" fill="#ffcb00"/>
<use href="#se18" transform="matrix(22.53 0 -1.12 7.43 44.74 8.30)" fill="#ffac00"/>
<use href="#se18" transform="matrix(20.03 0 -0.99 6.61 44.74 8.30)" fill="#ff8e00"/>
<use href="#se18" transform="matrix(17.52 0 -0.87 5.78 44.74 8.30)" fill="#ff6f00"/>
<use href="#se18" transform="matrix(15.02 0 -0.74 4.96 44.74 8.30)" fill="#ff5900"/>
<use href="#se18" transform="matrix(12.52 0 -0.62 4.13 44.74 8.30)" fill="#ff4300"/>
<use href="#se18" transform="matrix(10.01 0 -0.50 3.30 44.74 8.30)" fill="#ff3300"/>
<use href="#se18" transform="matrix(7.51 0 -0.37 2.48 44.74 8.30)" fill="#ff2300"/>
<use href="#se18" transform="matrix(5.01 0 -0.25 1.65 44.74 8.30)" fill="#ff1b00"/>
<use href="#se18" transform="matrix(2.50 0 -0.12 0.83 44.74 8.30)" fill="#ff1300"/>
</g>
<rect x="0.00" y="0" width="1.00" height="19.00" fill="#0048ff" fill-opacity="0.95"/>
<rect x="89.67" y="0" width="1.00" height="19.00" fill="#0048ff" fill-opacity="0.95"/>
<rect x="0" y="0.00" width="90.67" height="1.00" fill="url(#rt0)" fill-opacity="0.95"/>
<rect x="0" y="18.00" width="90.67" height="1.00" fill="url(#rb0)" fill-opacity="0.95"/>
<rect x="1.00" y="0" width="1.00" height="19.00" fill="#00a0ff" fill-opacity="0.80"/>
<rect x="88.67" y="0" width="1.00" height="19.00" fill="#00a0ff" fill-opacity="0.80"/>
<rect x="0" y="1.00" width="90.67" height="1.00" fill="url(#rt1)" fill-opacity="0.80"/>
<rect x="0" y="17.00" width="90.67" height="1.00" fill="url(#rb1)" fill-opacity="0.80"/>
<rect x="2.00" y="0" width="1.10" height="19.00" fill="#00ecff" fill-opacity="0.60"/>
<rect x="87.57" y="0" width="1.10" height="19.00" fill="#00ecff" fill-opacity="0.60"/>
<rect x="0" y="2.00" width="90.67" height="1.10" fill="url(#rt2)" fill-opacity="0.60"/>
<rect x="0" y="15.90" width="90.67" height="1.10" fill="url(#rb2)" fill-opacity="0.60"/>
<rect x="3.10" y="0" width="1.20" height="19.00" fill="#00ecff" fill-opacity="0.28"/>
<rect x="86.37" y="0" width="1.20" height="19.00" fill="#00ecff" fill-opacity="0.28"/>
<rect x="0" y="3.10" width="90.67" height="1.20" fill="url(#rt2)" fill-opacity="0.28"/>
<rect x="0" y="14.70" width="90.67" height="1.20" fill="url(#rb2)" fill-opacity="0.28"/>
<line x1="-1.1" y1="5.32" x2="-1.1" y2="14.82" stroke="#2458f5" stroke-width="0.8" stroke-dasharray="4 0.8" stroke-opacity="0.8"/>
<line x1="91.77" y1="4.18" x2="91.77" y2="13.68" stroke="#2458f5" stroke-width="0.8" stroke-dasharray="4 0.8" stroke-opacity="0.8"/>
<line x1="0" y1="0" x2="90.67" y2="0" stroke="#7e7e7e" stroke-width="1.5"/>
<line x1="0" y1="19.00" x2="90.67" y2="19.00" stroke="#7e7e7e" stroke-width="1.5"/>
</g>
<line x1="417.30" y1="106.08" x2="432.26" y2="117.30" stroke="#cccccc" stroke-width="3.8"/>
<g transform="matrix(0.81809 -0.57508 0 1 396.60 133.90)">
<rect x="0" y="0" width="90.94" height="19.00" fill="#00f0ff"/>
<g clip-path="url(#c12)">
<use href="#se18" transform="matrix(71.28 0 -3.53 23.52 44.52 8.30)" fill="#00f1ff"/>
<use href="#se18" transform="matrix(68.73 0 -3.40 22.68 44.52 8.30)" fill="#00f4ff"/>
<use href="#se18" transform="matrix(66.19 0 -3.28 21.84 44.52 8.30)" fill="#00f7ff"/>
<use href="#se18" transform="matrix(63.64 0 -3.15 21.00 44.52 8.30)" fill="#00faff"/>
<use href="#se18" transform="matrix(61.10 0 -3.02 20.16 44.52 8.30)" fill="#00ffff"/>
<use href="#se18" transform="matrix(58.55 0 -2.90 19.32 44.52 8.30)" fill="#07fff8"/>
<use href="#se18" transform="matrix(56.01 0 -2.77 18.48 44.52 8.30)" fill="#0efff1"/>
<use href="#se18" transform="matrix(53.46 0 -2.65 17.64 44.52 8.30)" fill="#16ffe9"/>
<use href="#se18" transform="matrix(50.91 0 -2.52 16.80 44.52 8.30)" fill="#22ffdd"/>
<use href="#se18" transform="matrix(48.37 0 -2.39 15.96 44.52 8.30)" fill="#30ffcf"/>
<use href="#se18" transform="matrix(45.82 0 -2.27 15.12 44.52 8.30)" fill="#3dffc2"/>
<use href="#se18" transform="matrix(43.28 0 -2.14 14.28 44.52 8.30)" fill="#53ffac"/>
<use href="#se18" transform="matrix(40.73 0 -2.02 13.44 44.52 8.30)" fill="#6dff92"/>
<use href="#se18" transform="matrix(38.19 0 -1.89 12.60 44.52 8.30)" fill="#88ff77"/>
<use href="#se18" transform="matrix(35.64 0 -1.76 11.76 44.52 8.30)" fill="#acff53"/>
<use href="#se18" transform="matrix(33.09 0 -1.64 10.92 44.52 8.30)" fill="#d0ff2f"/>
<use href="#se18" transform="matrix(30.55 0 -1.51 10.08 44.52 8.30)" fill="#f6ff09"/>
<use href="#se18" transform="matrix(28.00 0 -1.39 9.24 44.52 8.30)" fill="#ffdf00"/>
<use href="#se18" transform="matrix(25.46 0 -1.26 8.40 44.52 8.30)" fill="#ffb700"/>
<use href="#se18" transform="matrix(22.91 0 -1.13 7.56 44.52 8.30)" fill="#ff9700"/>
<use href="#se18" transform="matrix(20.37 0 -1.01 6.72 44.52 8.30)" fill="#ff7700"/>
<use href="#se18" transform="matrix(17.82 0 -0.88 5.88 44.52 8.30)" fill="#ff5600"/>
<use href="#se18" transform="matrix(15.27 0 -0.76 5.04 44.52 8.30)" fill="#ff3e00"/>
<use href="#se18" transform="matrix(12.73 0 -0.63 4.20 44.52 8.30)" fill="#ff2800"/>
<use href="#se18" transform="matrix(10.18 0 -0.50 3.36 44.52 8.30)" fill="#ff1700"/>
<use href="#se18" transform="matrix(7.64 0 -0.38 2.52 44.52 8.30)" fill="#ff0600"/>
<use href="#se18" transform="matrix(5.09 0 -0.25 1.68 44.52 8.30)" fill="#fc0000"/>
<use href="#se18" transform="matrix(2.55 0 -0.13 0.84 44.52 8.30)" fill="#f40000"/>
</g>
<rect x="0.00" y="0" width="1.00" height="19.00" fill="#0048ff" fill-opacity="0.95"/>
<rect x="89.94" y="0" width="1.00" height="19.00" fill="#0048ff" fill-opacity="0.95"/>
<rect x="0" y="0.00" width="90.94" height="1.00" fill="url(#rt0)" fill-opacity="0.95"/>
<rect x="0" y="18.00" width="90.94" height="1.00" fill="url(#rb0)" fill-opacity="0.95"/>
<rect x="1.00" y="0" width="1.00" height="19.00" fill="#00a0ff" fill-opacity="0.80"/>
<rect x="88.94" y="0" width="1.00" height="19.00" fill="#00a0ff" fill-opacity="0.80"/>
<rect x="0" y="1.00" width="90.94" height="1.00" fill="url(#rt1)" fill-opacity="0.80"/>
<rect x="0" y="17.00" width="90.94" height="1.00" fill="url(#rb1)" fill-opacity="0.80"/>
<rect x="2.00" y="0" width="1.10" height="19.00" fill="#00ecff" fill-opacity="0.60"/>
<rect x="87.84" y="0" width="1.10" height="19.00" fill="#00ecff" fill-opacity="0.60"/>
<rect x="0" y="2.00" width="90.94" height="1.10" fill="url(#rt2)" fill-opacity="0.60"/>
<rect x="0" y="15.90" width="90.94" height="1.10" fill="url(#rb2)" fill-opacity="0.60"/>
<rect x="3.10" y="0" width="1.20" height="19.00" fill="#00ecff" fill-opacity="0.28"/>
<rect x="86.64" y="0" width="1.20" height="19.00" fill="#00ecff" fill-opacity="0.28"/>
<rect x="0" y="3.10" width="90.94" height="1.20" fill="url(#rt2)" fill-opacity="0.28"/>
<rect x="0" y="14.70" width="90.94" height="1.20" fill="url(#rb2)" fill-opacity="0.28"/>
<line x1="-1.1" y1="5.32" x2="-1.1" y2="14.82" stroke="#2458f5" stroke-width="0.8" stroke-dasharray="4 0.8" stroke-opacity="0.8"/>
<line x1="92.04" y1="4.18" x2="92.04" y2="13.68" stroke="#2458f5" stroke-width="0.8" stroke-dasharray="4 0.8" stroke-opacity="0.8"/>
<line x1="0" y1="0" x2="90.94" y2="0" stroke="#7e7e7e" stroke-width="1.5"/>
<line x1="0" y1="19.00" x2="90.94" y2="19.00" stroke="#7e7e7e" stroke-width="1.5"/>
</g>
<line x1="432.20" y1="117.34" x2="447.16" y2="128.56" stroke="#cccccc" stroke-width="3.8"/>
<g transform="matrix(0.81601 -0.57804 0 1 405.40 151.00)">
<rect x="0" y="0" width="106.74" height="19.00" fill="#00f0ff"/>
<g clip-path="url(#c13)">
<use href="#se18" transform="matrix(80.78 0 -4.00 26.66 53.10 8.30)" fill="#00f1ff"/>
<use href="#se18" transform="matrix(77.90 0 -3.86 25.71 53.10 8.30)" fill="#00f5ff"/>
<use href="#se18" transform="matrix(75.01 0 -3.71 24.75 53.10 8.30)" fill="#00f8ff"/>
<use href="#se18" transform="matrix(72.13 0 -3.57 23.80 53.10 8.30)" fill="#00fbff"/>
<use href="#se18" transform="matrix(69.24 0 -3.43 22.85 53.10 8.30)" fill="#03fffc"/>
<use href="#se18" transform="matrix(66.36 0 -3.28 21.90 53.10 8.30)" fill="#0bfff4"/>
<use href="#se18" transform="matrix(63.47 0 -3.14 20.95 53.10 8.30)" fill="#13ffec"/>
<use href="#se18" transform="matrix(60.59 0 -3.00 19.99 53.10 8.30)" fill="#1bffe4"/>
<use href="#se18" transform="matrix(57.70 0 -2.86 19.04 53.10 8.30)" fill="#2affd5"/>
<use href="#se18" transform="matrix(54.82 0 -2.71 18.09 53.10 8.30)" fill="#39ffc6"/>
<use href="#se18" transform="matrix(51.93 0 -2.57 17.14 53.10 8.30)" fill="#49ffb6"/>
<use href="#se18" transform="matrix(49.05 0 -2.43 16.19 53.10 8.30)" fill="#62ff9d"/>
<use href="#se18" transform="matrix(46.16 0 -2.29 15.23 53.10 8.30)" fill="#7fff80"/>
<use href="#se18" transform="matrix(43.28 0 -2.14 14.28 53.10 8.30)" fill="#9eff61"/>
<use href="#se18" transform="matrix(40.39 0 -2.00 13.33 53.10 8.30)" fill="#c8ff37"/>
<use href="#se18" transform="matrix(37.51 0 -1.86 12.38 53.10 8.30)" fill="#f1ff0e"/>
<use href="#se18" transform="matrix(34.62 0 -1.71 11.43 53.10 8.30)" fill="#ffe000"/>
<use href="#se18" transform="matrix(31.74 0 -1.57 10.47 53.10 8.30)" fill="#ffb200"/>
<use href="#se18" transform="matrix(28.85 0 -1.43 9.52 53.10 8.30)" fill="#ff8400"/>
<use href="#se18" transform="matrix(25.97 0 -1.29 8.57 53.10 8.30)" fill="#ff5e00"/>
<use href="#se18" transform="matrix(23.08 0 -1.14 7.62 53.10 8.30)" fill="#ff3900"/>
<use href="#se18" transform="matrix(20.20 0 -1.00 6.66 53.10 8.30)" fill="#ff1400"/>
<use href="#se18" transform="matrix(17.31 0 -0.86 5.71 53.10 8.30)" fill="#f80000"/>
<use href="#se18" transform="matrix(14.43 0 -0.71 4.76 53.10 8.30)" fill="#de0000"/>
<use href="#se18" transform="matrix(11.54 0 -0.57 3.81 53.10 8.30)" fill="#ca0000"/>
<use href="#se18" transform="matrix(8.66 0 -0.43 2.86 53.10 8.30)" fill="#b70000"/>
<use href="#se18" transform="matrix(5.77 0 -0.29 1.90 53.10 8.30)" fill="#ad0000"/>
<use href="#se18" transform="matrix(2.89 0 -0.14 0.95 53.10 8.30)" fill="#a30000"/>
</g>
<rect x="0.00" y="0" width="1.00" height="19.00" fill="#0048ff" fill-opacity="0.95"/>
<rect x="105.74" y="0" width="1.00" height="19.00" fill="#0048ff" fill-opacity="0.95"/>
<rect x="0" y="0.00" width="106.74" height="1.00" fill="url(#rt0)" fill-opacity="0.95"/>
<rect x="0" y="18.00" width="106.74" height="1.00" fill="url(#rb0)" fill-opacity="0.95"/>
<rect x="1.00" y="0" width="1.00" height="19.00" fill="#00a0ff" fill-opacity="0.80"/>
<rect x="104.74" y="0" width="1.00" height="19.00" fill="#00a0ff" fill-opacity="0.80"/>
<rect x="0" y="1.00" width="106.74" height="1.00" fill="url(#rt1)" fill-opacity="0.80"/>
<rect x="0" y="17.00" width="106.74" height="1.00" fill="url(#rb1)" fill-opacity="0.80"/>
<rect x="2.00" y="0" width="1.10" height="19.00" fill="#00ecff" fill-opacity="0.60"/>
<rect x="103.64" y="0" width="1.10" height="19.00" fill="#00ecff" fill-opacity="0.60"/>
<rect x="0" y="2.00" width="106.74" height="1.10" fill="url(#rt2)" fill-opacity="0.60"/>
<rect x="0" y="15.90" width="106.74" height="1.10" fill="url(#rb2)" fill-opacity="0.60"/>
<rect x="3.10" y="0" width="1.20" height="19.00" fill="#00ecff" fill-opacity="0.28"/>
<rect x="102.44" y="0" width="1.20" height="19.00" fill="#00ecff" fill-opacity="0.28"/>
<rect x="0" y="3.10" width="106.74" height="1.20" fill="url(#rt2)" fill-opacity="0.28"/>
<rect x="0" y="14.70" width="106.74" height="1.20" fill="url(#rb2)" fill-opacity="0.28"/>
<line x1="-1.1" y1="5.32" x2="-1.1" y2="14.82" stroke="#2458f5" stroke-width="0.8" stroke-dasharray="4 0.8" stroke-opacity="0.8"/>
<line x1="107.84" y1="4.18" x2="107.84" y2="13.68" stroke="#2458f5" stroke-width="0.8" stroke-dasharray="4 0.8" stroke-opacity="0.8"/>
<line x1="0" y1="0" x2="106.74" y2="0" stroke="#7e7e7e" stroke-width="1.5"/>
<line x1="0" y1="19.00" x2="106.74" y2="19.00" stroke="#7e7e7e" stroke-width="1.5"/>
</g>
<line x1="447.10" y1="128.60" x2="454.78" y2="134.36" stroke="#cccccc" stroke-width="3.8"/>
<path d="M455.7 132.0l1.1 -2.4m-0.9 0.3l1.2 1m0.2 -0.4l2.4 -0.5" stroke="#33300a" stroke-width="0.7" fill="none"/>
<text x="313.50" y="80.27" font-size="9.3" text-anchor="end">20</text>
<text x="313.50" y="100.07" font-size="9.3" text-anchor="end">0</text>
<text x="313.50" y="119.67" font-size="9.3" text-anchor="end">-20</text>
<text font-size="10.3" text-anchor="middle" transform="translate(292.50 99.70) rotate(-90)" y="3.40"><tspan font-style="italic">z</tspan>/m</text>
<text x="309.00" y="131.97" font-size="9.3" text-anchor="middle">60</text>
<text x="324.00" y="143.27" font-size="9.3" text-anchor="middle">40</text>
<text x="339.00" y="154.57" font-size="9.3" text-anchor="middle">20</text>
<text x="356.30" y="165.87" font-size="9.3" text-anchor="middle">0</text>
<text x="367.30" y="177.47" font-size="9.3" text-anchor="middle">-20</text>
<text x="382.80" y="189.07" font-size="9.3" text-anchor="middle">-40</text>
<text x="397.70" y="200.07" font-size="9.3" text-anchor="middle">-60</text>
<text font-size="10.3" text-anchor="middle" transform="translate(348.60 185.40) rotate(38)" y="3.40"><tspan font-style="italic">y</tspan>/m</text>
<text x="428.90" y="195.87" font-size="9.3" text-anchor="middle">-200</text>
<text x="449.50" y="181.57" font-size="9.3" text-anchor="middle">-100</text>
<text x="463.20" y="167.47" font-size="9.3" text-anchor="middle">0</text>
<text x="488.60" y="153.27" font-size="9.3" text-anchor="middle">100</text>
<text x="509.20" y="138.67" font-size="9.3" text-anchor="middle">200</text>
<text font-size="10.3" text-anchor="middle" transform="translate(475.50 185.00) rotate(-38)" y="3.40"><tspan font-style="italic">x</tspan>/m</text>
<rect x="521.80" y="14.80" width="11.00" height="172.10" fill="url(#g14)"/>
<line x1="531.20" y1="34.60" x2="532.80" y2="34.60" stroke="#303030" stroke-width="0.6"/>
<text x="536.00" y="37.67" font-size="9.3" text-anchor="start">2.5</text>
<line x1="531.20" y1="66.75" x2="532.80" y2="66.75" stroke="#303030" stroke-width="0.6"/>
<text x="536.00" y="69.82" font-size="9.3" text-anchor="start">2</text>
<line x1="531.20" y1="98.90" x2="532.80" y2="98.90" stroke="#303030" stroke-width="0.6"/>
<text x="536.00" y="101.97" font-size="9.3" text-anchor="start">1.5</text>
<line x1="531.20" y1="131.05" x2="532.80" y2="131.05" stroke="#303030" stroke-width="0.6"/>
<text x="536.00" y="134.12" font-size="9.3" text-anchor="start">1</text>
<line x1="531.20" y1="163.20" x2="532.80" y2="163.20" stroke="#303030" stroke-width="0.6"/>
<text x="536.00" y="166.27" font-size="9.3" text-anchor="start">0.5</text>
<text x="527.70" y="8.90" font-size="9.3" text-anchor="middle">mm</text>
<text x="421.70" y="222.90" font-size="13.3" text-anchor="middle" style="fill:#111">(<tspan font-weight="bold">b</tspan>)</text>
<line x1="32.20" y1="308.50" x2="124.20" y2="245.50" stroke="#4a4a4a" stroke-width="0.8"/>
<line x1="124.20" y1="245.50" x2="211.80" y2="310.80" stroke="#4a4a4a" stroke-width="0.8"/>
<line x1="32.20" y1="308.50" x2="32.20" y2="346.80" stroke="#4a4a4a" stroke-width="0.8"/>
<line x1="124.20" y1="245.50" x2="124.20" y2="283.80" stroke="#4a4a4a" stroke-width="0.8"/>
<line x1="211.80" y1="310.80" x2="211.80" y2="349.40" stroke="#4a4a4a" stroke-width="0.8"/>
<line x1="32.20" y1="346.80" x2="124.20" y2="283.80" stroke="#4a4a4a" stroke-width="0.8"/>
<line x1="124.20" y1="283.80" x2="211.80" y2="349.40" stroke="#4a4a4a" stroke-width="0.8"/>
<line x1="32.20" y1="346.80" x2="119.80" y2="415.00" stroke="#4a4a4a" stroke-width="0.8"/>
<line x1="119.80" y1="415.00" x2="211.80" y2="349.40" stroke="#4a4a4a" stroke-width="0.8"/>
<line x1="145.20" y1="399.00" x2="146.70" y2="400.20" stroke="#4a4a4a" stroke-width="0.6"/>
<line x1="168.00" y1="382.70" x2="169.50" y2="383.90" stroke="#4a4a4a" stroke-width="0.6"/>
<line x1="190.80" y1="366.40" x2="192.30" y2="367.60" stroke="#4a4a4a" stroke-width="0.6"/>
<line x1="32.20" y1="346.80" x2="30.70" y2="348.00" stroke="#4a4a4a" stroke-width="0.6"/>
<line x1="46.80" y1="358.17" x2="45.30" y2="359.37" stroke="#4a4a4a" stroke-width="0.6"/>
<line x1="61.40" y1="369.54" x2="59.90" y2="370.74" stroke="#4a4a4a" stroke-width="0.6"/>
<line x1="76.00" y1="380.91" x2="74.50" y2="382.11" stroke="#4a4a4a" stroke-width="0.6"/>
<line x1="90.60" y1="392.28" x2="89.10" y2="393.48" stroke="#4a4a4a" stroke-width="0.6"/>
<line x1="105.20" y1="403.65" x2="103.70" y2="404.85" stroke="#4a4a4a" stroke-width="0.6"/>
<line x1="119.80" y1="415.02" x2="118.30" y2="416.22" stroke="#4a4a4a" stroke-width="0.6"/>
<line x1="32.20" y1="308.50" x2="30.20" y2="308.50" stroke="#4a4a4a" stroke-width="0.6"/>
<line x1="32.20" y1="327.70" x2="30.20" y2="327.70" stroke="#4a4a4a" stroke-width="0.6"/>
<line x1="32.20" y1="346.80" x2="30.20" y2="346.80" stroke="#4a4a4a" stroke-width="0.6"/>
<g transform="matrix(0.82668 -0.56268 0 1 48.90 317.90)">
<rect x="0" y="0" width="89.39" height="18.60" fill="#00faff"/>
<g clip-path="url(#c15)">
<use href="#se18" transform="matrix(67.72 0 -3.05 20.31 43.39 7.80)" fill="#00fbff"/>
<use href="#se18" transform="matrix(65.30 0 -2.94 19.59 43.39 7.80)" fill="#00feff"/>
<use href="#se18" transform="matrix(62.88 0 -2.83 18.86 43.39 7.80)" fill="#02fffd"/>
<use href="#se18" transform="matrix(60.46 0 -2.72 18.14 43.39 7.80)" fill="#04fffb"/>
<use href="#se18" transform="matrix(58.04 0 -2.61 17.41 43.39 7.80)" fill="#0afff5"/>
<use href="#se18" transform="matrix(55.62 0 -2.50 16.69 43.39 7.80)" fill="#11ffee"/>
<use href="#se18" transform="matrix(53.21 0 -2.39 15.96 43.39 7.80)" fill="#18ffe7"/>
<use href="#se18" transform="matrix(50.79 0 -2.29 15.24 43.39 7.80)" fill="#1effe1"/>
<use href="#se18" transform="matrix(48.37 0 -2.18 14.51 43.39 7.80)" fill="#2bffd4"/>
<use href="#se18" transform="matrix(45.95 0 -2.07 13.79 43.39 7.80)" fill="#38ffc7"/>
<use href="#se18" transform="matrix(43.53 0 -1.96 13.06 43.39 7.80)" fill="#45ffba"/>
<use href="#se18" transform="matrix(41.11 0 -1.85 12.33 43.39 7.80)" fill="#5affa5"/>
<use href="#se18" transform="matrix(38.69 0 -1.74 11.61 43.39 7.80)" fill="#72ff8d"/>
<use href="#se18" transform="matrix(36.28 0 -1.63 10.88 43.39 7.80)" fill="#8cff73"/>
<use href="#se18" transform="matrix(33.86 0 -1.52 10.16 43.39 7.80)" fill="#afff50"/>
<use href="#se18" transform="matrix(31.44 0 -1.41 9.43 43.39 7.80)" fill="#d2ff2d"/>
<use href="#se18" transform="matrix(29.02 0 -1.31 8.71 43.39 7.80)" fill="#f7ff08"/>
<use href="#se18" transform="matrix(26.60 0 -1.20 7.98 43.39 7.80)" fill="#ffe000"/>
<use href="#se18" transform="matrix(24.18 0 -1.09 7.26 43.39 7.80)" fill="#ffba00"/>
<use href="#se18" transform="matrix(21.77 0 -0.98 6.53 43.39 7.80)" fill="#ff9b00"/>
<use href="#se18" transform="matrix(19.35 0 -0.87 5.80 43.39 7.80)" fill="#ff7c00"/>
<use href="#se18" transform="matrix(16.93 0 -0.76 5.08 43.39 7.80)" fill="#ff5d00"/>
<use href="#se18" transform="matrix(14.51 0 -0.65 4.35 43.39 7.80)" fill="#ff4600"/>
<use href="#se18" transform="matrix(12.09 0 -0.54 3.63 43.39 7.80)" fill="#ff3000"/>
<use href="#se18" transform="matrix(9.67 0 -0.44 2.90 43.39 7.80)" fill="#ff1f00"/>
<use href="#se18" transform="matrix(7.26 0 -0.33 2.18 43.39 7.80)" fill="#ff0f00"/>
<use href="#se18" transform="matrix(4.84 0 -0.22 1.45 43.39 7.80)" fill="#ff0700"/>
<use href="#se18" transform="matrix(2.42 0 -0.11 0.73 43.39 7.80)" fill="#fe0000"/>
</g>
<rect x="0.00" y="0" width="1.00" height="18.60" fill="#0048ff" fill-opacity="0.95"/>
<rect x="88.39" y="0" width="1.00" height="18.60" fill="#0048ff" fill-opacity="0.95"/>
<rect x="0" y="0.00" width="89.39" height="1.00" fill="url(#rt0)" fill-opacity="0.95"/>
<rect x="0" y="17.60" width="89.39" height="1.00" fill="url(#rb0)" fill-opacity="0.95"/>
<rect x="1.00" y="0" width="1.00" height="18.60" fill="#00a0ff" fill-opacity="0.80"/>
<rect x="87.39" y="0" width="1.00" height="18.60" fill="#00a0ff" fill-opacity="0.80"/>
<rect x="0" y="1.00" width="89.39" height="1.00" fill="url(#rt1)" fill-opacity="0.80"/>
<rect x="0" y="16.60" width="89.39" height="1.00" fill="url(#rb1)" fill-opacity="0.80"/>
<rect x="2.00" y="0" width="1.10" height="18.60" fill="#00ecff" fill-opacity="0.60"/>
<rect x="86.29" y="0" width="1.10" height="18.60" fill="#00ecff" fill-opacity="0.60"/>
<rect x="0" y="2.00" width="89.39" height="1.10" fill="url(#rt2)" fill-opacity="0.60"/>
<rect x="0" y="15.50" width="89.39" height="1.10" fill="url(#rb2)" fill-opacity="0.60"/>
<rect x="3.10" y="0" width="1.20" height="18.60" fill="#00ecff" fill-opacity="0.28"/>
<rect x="85.09" y="0" width="1.20" height="18.60" fill="#00ecff" fill-opacity="0.28"/>
<rect x="0" y="3.10" width="89.39" height="1.20" fill="url(#rt2)" fill-opacity="0.28"/>
<rect x="0" y="14.30" width="89.39" height="1.20" fill="url(#rb2)" fill-opacity="0.28"/>
<line x1="-1.1" y1="5.21" x2="-1.1" y2="14.51" stroke="#2458f5" stroke-width="0.8" stroke-dasharray="4 0.8" stroke-opacity="0.8"/>
<line x1="90.49" y1="4.09" x2="90.49" y2="13.39" stroke="#2458f5" stroke-width="0.8" stroke-dasharray="4 0.8" stroke-opacity="0.8"/>
<line x1="0" y1="0" x2="89.39" y2="0" stroke="#7e7e7e" stroke-width="1.5"/>
<line x1="0" y1="18.60" x2="89.39" y2="18.60" stroke="#7e7e7e" stroke-width="1.5"/>
</g>
<line x1="85.60" y1="301.70" x2="100.64" y2="312.98" stroke="#cccccc" stroke-width="3.8"/>
<g transform="matrix(0.81301 -0.58225 0 1 70.20 326.00)">
<rect x="0" y="0" width="74.54" height="18.60" fill="#00faff"/>
<g clip-path="url(#c16)">
<use href="#se18" transform="matrix(57.02 0 -2.57 17.11 36.83 7.80)" fill="#00fbff"/>
<use href="#se18" transform="matrix(54.99 0 -2.47 16.50 36.83 7.80)" fill="#00fdff"/>
<use href="#se18" transform="matrix(52.95 0 -2.38 15.89 36.83 7.80)" fill="#00feff"/>
<use href="#se18" transform="matrix(50.91 0 -2.29 15.27 36.83 7.80)" fill="#01fffe"/>
<use href="#se18" transform="matrix(48.88 0 -2.20 14.66 36.83 7.80)" fill="#05fffa"/>
<use href="#se18" transform="matrix(46.84 0 -2.11 14.05 36.83 7.80)" fill="#09fff6"/>
<use href="#se18" transform="matrix(44.80 0 -2.02 13.44 36.83 7.80)" fill="#0efff1"/>
<use href="#se18" transform="matrix(42.77 0 -1.92 12.83 36.83 7.80)" fill="#13ffec"/>
<use href="#se18" transform="matrix(40.73 0 -1.83 12.22 36.83 7.80)" fill="#1bffe4"/>
<use href="#se18" transform="matrix(38.69 0 -1.74 11.61 36.83 7.80)" fill="#23ffdc"/>
<use href="#se18" transform="matrix(36.66 0 -1.65 11.00 36.83 7.80)" fill="#2cffd3"/>
<use href="#se18" transform="matrix(34.62 0 -1.56 10.39 36.83 7.80)" fill="#3affc5"/>
<use href="#se18" transform="matrix(32.59 0 -1.47 9.78 36.83 7.80)" fill="#4affb5"/>
<use href="#se18" transform="matrix(30.55 0 -1.37 9.16 36.83 7.80)" fill="#5cffa3"/>
<use href="#se18" transform="matrix(28.51 0 -1.28 8.55 36.83 7.80)" fill="#73ff8c"/>
<use href="#se18" transform="matrix(26.48 0 -1.19 7.94 36.83 7.80)" fill="#8aff75"/>
<use href="#se18" transform="matrix(24.44 0 -1.10 7.33 36.83 7.80)" fill="#a3ff5c"/>
<use href="#se18" transform="matrix(22.40 0 -1.01 6.72 36.83 7.80)" fill="#bdff42"/>
<use href="#se18" transform="matrix(20.37 0 -0.92 6.11 36.83 7.80)" fill="#d6ff29"/>
<use href="#se18" transform="matrix(18.33 0 -0.82 5.50 36.83 7.80)" fill="#ebff14"/>
<use href="#se18" transform="matrix(16.29 0 -0.73 4.89 36.83 7.80)" fill="#fffe00"/>
<use href="#se18" transform="matrix(14.26 0 -0.64 4.28 36.83 7.80)" fill="#ffea00"/>
<use href="#se18" transform="matrix(12.22 0 -0.55 3.67 36.83 7.80)" fill="#ffda00"/>
<use href="#se18" transform="matrix(10.18 0 -0.46 3.05 36.83 7.80)" fill="#ffcc00"/>
<use href="#se18" transform="matrix(8.15 0 -0.37 2.44 36.83 7.80)" fill="#ffc100"/>
<use href="#se18" transform="matrix(6.11 0 -0.27 1.83 36.83 7.80)" fill="#ffb600"/>
<use href="#se18" transform="matrix(4.07 0 -0.18 1.22 36.83 7.80)" fill="#ffb000"/>
<use href="#se18" transform="matrix(2.04 0 -0.09 0.61 36.83 7.80)" fill="#ffab00"/>
</g>
<rect x="0.00" y="0" width="1.00" height="18.60" fill="#0048ff" fill-opacity="0.95"/>
<rect x="73.54" y="0" width="1.00" height="18.60" fill="#0048ff" fill-opacity="0.95"/>
<rect x="0" y="0.00" width="74.54" height="1.00" fill="url(#rt0)" fill-opacity="0.95"/>
<rect x="0" y="17.60" width="74.54" height="1.00" fill="url(#rb0)" fill-opacity="0.95"/>
<rect x="1.00" y="0" width="1.00" height="18.60" fill="#00a0ff" fill-opacity="0.80"/>
<rect x="72.54" y="0" width="1.00" height="18.60" fill="#00a0ff" fill-opacity="0.80"/>
<rect x="0" y="1.00" width="74.54" height="1.00" fill="url(#rt1)" fill-opacity="0.80"/>
<rect x="0" y="16.60" width="74.54" height="1.00" fill="url(#rb1)" fill-opacity="0.80"/>
<rect x="2.00" y="0" width="1.10" height="18.60" fill="#00ecff" fill-opacity="0.60"/>
<rect x="71.44" y="0" width="1.10" height="18.60" fill="#00ecff" fill-opacity="0.60"/>
<rect x="0" y="2.00" width="74.54" height="1.10" fill="url(#rt2)" fill-opacity="0.60"/>
<rect x="0" y="15.50" width="74.54" height="1.10" fill="url(#rb2)" fill-opacity="0.60"/>
<rect x="3.10" y="0" width="1.20" height="18.60" fill="#00ecff" fill-opacity="0.28"/>
<rect x="70.24" y="0" width="1.20" height="18.60" fill="#00ecff" fill-opacity="0.28"/>
<rect x="0" y="3.10" width="74.54" height="1.20" fill="url(#rt2)" fill-opacity="0.28"/>
<rect x="0" y="14.30" width="74.54" height="1.20" fill="url(#rb2)" fill-opacity="0.28"/>
<line x1="-1.1" y1="5.21" x2="-1.1" y2="14.51" stroke="#2458f5" stroke-width="0.8" stroke-dasharray="4 0.8" stroke-opacity="0.8"/>
<line x1="75.64" y1="4.09" x2="75.64" y2="13.39" stroke="#2458f5" stroke-width="0.8" stroke-dasharray="4 0.8" stroke-opacity="0.8"/>
<line x1="0" y1="0" x2="74.54" y2="0" stroke="#7e7e7e" stroke-width="1.5"/>
<line x1="0" y1="18.60" x2="74.54" y2="18.60" stroke="#7e7e7e" stroke-width="1.5"/>
</g>
<line x1="100.14" y1="312.90" x2="115.18" y2="324.18" stroke="#cccccc" stroke-width="3.8"/>
<g transform="matrix(0.81917 -0.57355 0 1 85.00 336.40)">
<rect x="0" y="0" width="74.10" height="18.60" fill="#00faff"/>
<g clip-path="url(#c17)">
<use href="#se18" transform="matrix(57.02 0 -2.57 17.11 36.23 7.80)" fill="#00fbff"/>
<use href="#se18" transform="matrix(54.99 0 -2.47 16.50 36.23 7.80)" fill="#00fcff"/>
<use href="#se18" transform="matrix(52.95 0 -2.38 15.89 36.23 7.80)" fill="#00feff"/>
<use href="#se18" transform="matrix(50.91 0 -2.29 15.27 36.23 7.80)" fill="#01fffe"/>
<use href="#se18" transform="matrix(48.88 0 -2.20 14.66 36.23 7.80)" fill="#04fffb"/>
<use href="#se18" transform="matrix(46.84 0 -2.11 14.05 36.23 7.80)" fill="#08fff7"/>
<use href="#se18" transform="matrix(44.80 0 -2.02 13.44 36.23 7.80)" fill="#0cfff3"/>
<use href="#se18" transform="matrix(42.77 0 -1.92 12.83 36.23 7.80)" fill="#10ffef"/>
<use href="#se18" transform="matrix(40.73 0 -1.83 12.22 36.23 7.80)" fill="#18ffe7"/>
<use href="#se18" transform="matrix(38.69 0 -1.74 11.61 36.23 7.80)" fill="#20ffdf"/>
<use href="#se18" transform="matrix(36.66 0 -1.65 11.00 36.23 7.80)" fill="#28ffd7"/>
<use href="#se18" transform="matrix(34.62 0 -1.56 10.39 36.23 7.80)" fill="#34ffcb"/>
<use href="#se18" transform="matrix(32.59 0 -1.47 9.78 36.23 7.80)" fill="#43ffbc"/>
<use href="#se18" transform="matrix(30.55 0 -1.37 9.16 36.23 7.80)" fill="#53ffac"/>
<use href="#se18" transform="matrix(28.51 0 -1.28 8.55 36.23 7.80)" fill="#68ff97"/>
<use href="#se18" transform="matrix(26.48 0 -1.19 7.94 36.23 7.80)" fill="#7dff82"/>
<use href="#se18" transform="matrix(24.44 0 -1.10 7.33 36.23 7.80)" fill="#94ff6b"/>
<use href="#se18" transform="matrix(22.40 0 -1.01 6.72 36.23 7.80)" fill="#acff53"/>
<use href="#se18" transform="matrix(20.37 0 -0.92 6.11 36.23 7.80)" fill="#c3ff3c"/>
<use href="#se18" transform="matrix(18.33 0 -0.82 5.50 36.23 7.80)" fill="#d6ff29"/>
<use href="#se18" transform="matrix(16.29 0 -0.73 4.89 36.23 7.80)" fill="#e9ff16"/>
<use href="#se18" transform="matrix(14.26 0 -0.64 4.28 36.23 7.80)" fill="#fcff03"/>
<use href="#se18" transform="matrix(12.22 0 -0.55 3.67 36.23 7.80)" fill="#fff400"/>
<use href="#se18" transform="matrix(10.18 0 -0.46 3.05 36.23 7.80)" fill="#ffe700"/>
<use href="#se18" transform="matrix(8.15 0 -0.37 2.44 36.23 7.80)" fill="#ffdd00"/>
<use href="#se18" transform="matrix(6.11 0 -0.27 1.83 36.23 7.80)" fill="#ffd300"/>
<use href="#se18" transform="matrix(4.07 0 -0.18 1.22 36.23 7.80)" fill="#ffce00"/>
<use href="#se18" transform="matrix(2.04 0 -0.09 0.61 36.23 7.80)" fill="#ffc900"/>
</g>
<rect x="0.00" y="0" width="1.00" height="18.60" fill="#0048ff" fill-opacity="0.95"/>
<rect x="73.10" y="0" width="1.00" height="18.60" fill="#0048ff" fill-opacity="0.95"/>
<rect x="0" y="0.00" width="74.10" height="1.00" fill="url(#rt0)" fill-opacity="0.95"/>
<rect x="0" y="17.60" width="74.10" height="1.00" fill="url(#rb0)" fill-opacity="0.95"/>
<rect x="1.00" y="0" width="1.00" height="18.60" fill="#00a0ff" fill-opacity="0.80"/>
<rect x="72.10" y="0" width="1.00" height="18.60" fill="#00a0ff" fill-opacity="0.80"/>
<rect x="0" y="1.00" width="74.10" height="1.00" fill="url(#rt1)" fill-opacity="0.80"/>
<rect x="0" y="16.60" width="74.10" height="1.00" fill="url(#rb1)" fill-opacity="0.80"/>
<rect x="2.00" y="0" width="1.10" height="18.60" fill="#00ecff" fill-opacity="0.60"/>
<rect x="71.00" y="0" width="1.10" height="18.60" fill="#00ecff" fill-opacity="0.60"/>
<rect x="0" y="2.00" width="74.10" height="1.10" fill="url(#rt2)" fill-opacity="0.60"/>
<rect x="0" y="15.50" width="74.10" height="1.10" fill="url(#rb2)" fill-opacity="0.60"/>
<rect x="3.10" y="0" width="1.20" height="18.60" fill="#00ecff" fill-opacity="0.28"/>
<rect x="69.80" y="0" width="1.20" height="18.60" fill="#00ecff" fill-opacity="0.28"/>
<rect x="0" y="3.10" width="74.10" height="1.20" fill="url(#rt2)" fill-opacity="0.28"/>
<rect x="0" y="14.30" width="74.10" height="1.20" fill="url(#rb2)" fill-opacity="0.28"/>
<line x1="-1.1" y1="5.21" x2="-1.1" y2="14.51" stroke="#2458f5" stroke-width="0.8" stroke-dasharray="4 0.8" stroke-opacity="0.8"/>
<line x1="75.20" y1="4.09" x2="75.20" y2="13.39" stroke="#2458f5" stroke-width="0.8" stroke-dasharray="4 0.8" stroke-opacity="0.8"/>
<line x1="0" y1="0" x2="74.10" y2="0" stroke="#7e7e7e" stroke-width="1.5"/>
<line x1="0" y1="18.60" x2="74.10" y2="18.60" stroke="#7e7e7e" stroke-width="1.5"/>
</g>
<line x1="114.68" y1="324.10" x2="129.72" y2="335.38" stroke="#cccccc" stroke-width="3.8"/>
<g transform="matrix(0.82748 -0.56150 0 1 97.80 347.60)">
<rect x="0" y="0" width="77.83" height="18.60" fill="#00faff"/>
<g clip-path="url(#c18)">
<use href="#se18" transform="matrix(57.02 0 -2.57 17.11 37.97 7.80)" fill="#00fbff"/>
<use href="#se18" transform="matrix(54.99 0 -2.47 16.50 37.97 7.80)" fill="#00fcff"/>
<use href="#se18" transform="matrix(52.95 0 -2.38 15.89 37.97 7.80)" fill="#00feff"/>
<use href="#se18" transform="matrix(50.91 0 -2.29 15.27 37.97 7.80)" fill="#01fffe"/>
<use href="#se18" transform="matrix(48.88 0 -2.20 14.66 37.97 7.80)" fill="#04fffb"/>
<use href="#se18" transform="matrix(46.84 0 -2.11 14.05 37.97 7.80)" fill="#09fff6"/>
<use href="#se18" transform="matrix(44.80 0 -2.02 13.44 37.97 7.80)" fill="#0dfff2"/>
<use href="#se18" transform="matrix(42.77 0 -1.92 12.83 37.97 7.80)" fill="#11ffee"/>
<use href="#se18" transform="matrix(40.73 0 -1.83 12.22 37.97 7.80)" fill="#19ffe6"/>
<use href="#se18" transform="matrix(38.69 0 -1.74 11.61 37.97 7.80)" fill="#21ffde"/>
<use href="#se18" transform="matrix(36.66 0 -1.65 11.00 37.97 7.80)" fill="#29ffd6"/>
<use href="#se18" transform="matrix(34.62 0 -1.56 10.39 37.97 7.80)" fill="#36ffc9"/>
<use href="#se18" transform="matrix(32.59 0 -1.47 9.78 37.97 7.80)" fill="#46ffb9"/>
<use href="#se18" transform="matrix(30.55 0 -1.37 9.16 37.97 7.80)" fill="#56ffa9"/>
<use href="#se18" transform="matrix(28.51 0 -1.28 8.55 37.97 7.80)" fill="#6cff93"/>
<use href="#se18" transform="matrix(26.48 0 -1.19 7.94 37.97 7.80)" fill="#82ff7d"/>
<use href="#se18" transform="matrix(24.44 0 -1.10 7.33 37.97 7.80)" fill="#99ff66"/>
<use href="#se18" transform="matrix(22.40 0 -1.01 6.72 37.97 7.80)" fill="#b1ff4e"/>
<use href="#se18" transform="matrix(20.37 0 -0.92 6.11 37.97 7.80)" fill="#c9ff36"/>
<use href="#se18" transform="matrix(18.33 0 -0.82 5.50 37.97 7.80)" fill="#ddff22"/>
<use href="#se18" transform="matrix(16.29 0 -0.73 4.89 37.97 7.80)" fill="#f0ff0f"/>
<use href="#se18" transform="matrix(14.26 0 -0.64 4.28 37.97 7.80)" fill="#fffa00"/>
<use href="#se18" transform="matrix(12.22 0 -0.55 3.67 37.97 7.80)" fill="#ffec00"/>
<use href="#se18" transform="matrix(10.18 0 -0.46 3.05 37.97 7.80)" fill="#ffde00"/>
<use href="#se18" transform="matrix(8.15 0 -0.37 2.44 37.97 7.80)" fill="#ffd400"/>
<use href="#se18" transform="matrix(6.11 0 -0.27 1.83 37.97 7.80)" fill="#ffca00"/>
<use href="#se18" transform="matrix(4.07 0 -0.18 1.22 37.97 7.80)" fill="#ffc400"/>
<use href="#se18" transform="matrix(2.04 0 -0.09 0.61 37.97 7.80)" fill="#ffbf00"/>
</g>
<rect x="0.00" y="0" width="1.00" height="18.60" fill="#0048ff" fill-opacity="0.95"/>
<rect x="76.83" y="0" width="1.00" height="18.60" fill="#0048ff" fill-opacity="0.95"/>
<rect x="0" y="0.00" width="77.83" height="1.00" fill="url(#rt0)" fill-opacity="0.95"/>
<rect x="0" y="17.60" width="77.83" height="1.00" fill="url(#rb0)" fill-opacity="0.95"/>
<rect x="1.00" y="0" width="1.00" height="18.60" fill="#00a0ff" fill-opacity="0.80"/>
<rect x="75.83" y="0" width="1.00" height="18.60" fill="#00a0ff" fill-opacity="0.80"/>
<rect x="0" y="1.00" width="77.83" height="1.00" fill="url(#rt1)" fill-opacity="0.80"/>
<rect x="0" y="16.60" width="77.83" height="1.00" fill="url(#rb1)" fill-opacity="0.80"/>
<rect x="2.00" y="0" width="1.10" height="18.60" fill="#00ecff" fill-opacity="0.60"/>
<rect x="74.73" y="0" width="1.10" height="18.60" fill="#00ecff" fill-opacity="0.60"/>
<rect x="0" y="2.00" width="77.83" height="1.10" fill="url(#rt2)" fill-opacity="0.60"/>
<rect x="0" y="15.50" width="77.83" height="1.10" fill="url(#rb2)" fill-opacity="0.60"/>
<rect x="3.10" y="0" width="1.20" height="18.60" fill="#00ecff" fill-opacity="0.28"/>
<rect x="73.53" y="0" width="1.20" height="18.60" fill="#00ecff" fill-opacity="0.28"/>
<rect x="0" y="3.10" width="77.83" height="1.20" fill="url(#rt2)" fill-opacity="0.28"/>
<rect x="0" y="14.30" width="77.83" height="1.20" fill="url(#rb2)" fill-opacity="0.28"/>
<line x1="-1.1" y1="5.21" x2="-1.1" y2="14.51" stroke="#2458f5" stroke-width="0.8" stroke-dasharray="4 0.8" stroke-opacity="0.8"/>
<line x1="78.93" y1="4.09" x2="78.93" y2="13.39" stroke="#2458f5" stroke-width="0.8" stroke-dasharray="4 0.8" stroke-opacity="0.8"/>
<line x1="0" y1="0" x2="77.83" y2="0" stroke="#7e7e7e" stroke-width="1.5"/>
<line x1="0" y1="18.60" x2="77.83" y2="18.60" stroke="#7e7e7e" stroke-width="1.5"/>
</g>
<line x1="129.22" y1="335.30" x2="144.26" y2="346.58" stroke="#cccccc" stroke-width="3.8"/>
<g transform="matrix(0.82353 -0.56727 0 1 109.10 361.40)">
<rect x="0" y="0" width="85.85" height="18.60" fill="#00faff"/>
<g clip-path="url(#c19)">
<use href="#se18" transform="matrix(62.96 0 -2.83 18.89 43.09 7.80)" fill="#00fbff"/>
<use href="#se18" transform="matrix(60.72 0 -2.73 18.21 43.09 7.80)" fill="#00feff"/>
<use href="#se18" transform="matrix(58.47 0 -2.63 17.54 43.09 7.80)" fill="#01fffe"/>
<use href="#se18" transform="matrix(56.22 0 -2.53 16.87 43.09 7.80)" fill="#03fffc"/>
<use href="#se18" transform="matrix(53.97 0 -2.43 16.19 43.09 7.80)" fill="#08fff7"/>
<use href="#se18" transform="matrix(51.72 0 -2.33 15.52 43.09 7.80)" fill="#0efff1"/>
<use href="#se18" transform="matrix(49.47 0 -2.23 14.84 43.09 7.80)" fill="#14ffeb"/>
<use href="#se18" transform="matrix(47.22 0 -2.13 14.17 43.09 7.80)" fill="#1affe5"/>
<use href="#se18" transform="matrix(44.97 0 -2.02 13.49 43.09 7.80)" fill="#25ffda"/>
<use href="#se18" transform="matrix(42.73 0 -1.92 12.82 43.09 7.80)" fill="#31ffce"/>
<use href="#se18" transform="matrix(40.48 0 -1.82 12.14 43.09 7.80)" fill="#3cffc3"/>
<use href="#se18" transform="matrix(38.23 0 -1.72 11.47 43.09 7.80)" fill="#4fffb0"/>
<use href="#se18" transform="matrix(35.98 0 -1.62 10.79 43.09 7.80)" fill="#64ff9b"/>
<use href="#se18" transform="matrix(33.73 0 -1.52 10.12 43.09 7.80)" fill="#7bff84"/>
<use href="#se18" transform="matrix(31.48 0 -1.42 9.44 43.09 7.80)" fill="#9aff65"/>
<use href="#se18" transform="matrix(29.23 0 -1.32 8.77 43.09 7.80)" fill="#b8ff47"/>
<use href="#se18" transform="matrix(26.98 0 -1.21 8.10 43.09 7.80)" fill="#d9ff26"/>
<use href="#se18" transform="matrix(24.74 0 -1.11 7.42 43.09 7.80)" fill="#fbff04"/>
<use href="#se18" transform="matrix(22.49 0 -1.01 6.75 43.09 7.80)" fill="#ffe100"/>
<use href="#se18" transform="matrix(20.24 0 -0.91 6.07 43.09 7.80)" fill="#ffc500"/>
<use href="#se18" transform="matrix(17.99 0 -0.81 5.40 43.09 7.80)" fill="#ffaa00"/>
<use href="#se18" transform="matrix(15.74 0 -0.71 4.72 43.09 7.80)" fill="#ff8e00"/>
<use href="#se18" transform="matrix(13.49 0 -0.61 4.05 43.09 7.80)" fill="#ff7a00"/>
<use href="#se18" transform="matrix(11.24 0 -0.51 3.37 43.09 7.80)" fill="#ff6700"/>
<use href="#se18" transform="matrix(8.99 0 -0.40 2.70 43.09 7.80)" fill="#ff5800"/>
<use href="#se18" transform="matrix(6.75 0 -0.30 2.02 43.09 7.80)" fill="#ff4a00"/>
<use href="#se18" transform="matrix(4.50 0 -0.20 1.35 43.09 7.80)" fill="#ff4300"/>
<use href="#se18" transform="matrix(2.25 0 -0.10 0.67 43.09 7.80)" fill="#ff3c00"/>
</g>
<rect x="0.00" y="0" width="1.00" height="18.60" fill="#0048ff" fill-opacity="0.95"/>
<rect x="84.85" y="0" width="1.00" height="18.60" fill="#0048ff" fill-opacity="0.95"/>
<rect x="0" y="0.00" width="85.85" height="1.00" fill="url(#rt0)" fill-opacity="0.95"/>
<rect x="0" y="17.60" width="85.85" height="1.00" fill="url(#rb0)" fill-opacity="0.95"/>
<rect x="1.00" y="0" width="1.00" height="18.60" fill="#00a0ff" fill-opacity="0.80"/>
<rect x="83.85" y="0" width="1.00" height="18.60" fill="#00a0ff" fill-opacity="0.80"/>
<rect x="0" y="1.00" width="85.85" height="1.00" fill="url(#rt1)" fill-opacity="0.80"/>
<rect x="0" y="16.60" width="85.85" height="1.00" fill="url(#rb1)" fill-opacity="0.80"/>
<rect x="2.00" y="0" width="1.10" height="18.60" fill="#00ecff" fill-opacity="0.60"/>
<rect x="82.75" y="0" width="1.10" height="18.60" fill="#00ecff" fill-opacity="0.60"/>
<rect x="0" y="2.00" width="85.85" height="1.10" fill="url(#rt2)" fill-opacity="0.60"/>
<rect x="0" y="15.50" width="85.85" height="1.10" fill="url(#rb2)" fill-opacity="0.60"/>
<rect x="3.10" y="0" width="1.20" height="18.60" fill="#00ecff" fill-opacity="0.28"/>
<rect x="81.55" y="0" width="1.20" height="18.60" fill="#00ecff" fill-opacity="0.28"/>
<rect x="0" y="3.10" width="85.85" height="1.20" fill="url(#rt2)" fill-opacity="0.28"/>
<rect x="0" y="14.30" width="85.85" height="1.20" fill="url(#rb2)" fill-opacity="0.28"/>
<line x1="-1.1" y1="5.21" x2="-1.1" y2="14.51" stroke="#2458f5" stroke-width="0.8" stroke-dasharray="4 0.8" stroke-opacity="0.8"/>
<line x1="86.95" y1="4.09" x2="86.95" y2="13.39" stroke="#2458f5" stroke-width="0.8" stroke-dasharray="4 0.8" stroke-opacity="0.8"/>
<line x1="0" y1="0" x2="85.85" y2="0" stroke="#7e7e7e" stroke-width="1.5"/>
<line x1="0" y1="18.60" x2="85.85" y2="18.60" stroke="#7e7e7e" stroke-width="1.5"/>
</g>
<line x1="143.76" y1="346.50" x2="158.80" y2="357.78" stroke="#cccccc" stroke-width="3.8"/>
<g transform="matrix(0.82233 -0.56900 0 1 117.30 377.20)">
<rect x="0" y="0" width="101.05" height="18.60" fill="#1affe5"/>
<g clip-path="url(#c20)">
<use href="#se18" transform="matrix(85.54 0 -3.85 25.66 51.86 7.80)" fill="#1bffe4"/>
<use href="#se18" transform="matrix(82.48 0 -3.71 24.74 51.86 7.80)" fill="#1effe1"/>
<use href="#se18" transform="matrix(79.43 0 -3.57 23.83 51.86 7.80)" fill="#21ffde"/>
<use href="#se18" transform="matrix(76.37 0 -3.44 22.91 51.86 7.80)" fill="#24ffdb"/>
<use href="#se18" transform="matrix(73.32 0 -3.30 21.99 51.86 7.80)" fill="#2bffd4"/>
<use href="#se18" transform="matrix(70.26 0 -3.16 21.08 51.86 7.80)" fill="#32ffcd"/>
<use href="#se18" transform="matrix(67.21 0 -3.02 20.16 51.86 7.80)" fill="#3affc5"/>
<use href="#se18" transform="matrix(64.15 0 -2.89 19.25 51.86 7.80)" fill="#42ffbd"/>
<use href="#se18" transform="matrix(61.10 0 -2.75 18.33 51.86 7.80)" fill="#50ffaf"/>
<use href="#se18" transform="matrix(58.04 0 -2.61 17.41 51.86 7.80)" fill="#5fffa0"/>
<use href="#se18" transform="matrix(54.99 0 -2.47 16.50 51.86 7.80)" fill="#6eff91"/>
<use href="#se18" transform="matrix(51.93 0 -2.34 15.58 51.86 7.80)" fill="#85ff7a"/>
<use href="#se18" transform="matrix(48.88 0 -2.20 14.66 51.86 7.80)" fill="#a1ff5e"/>
<use href="#se18" transform="matrix(45.82 0 -2.06 13.75 51.86 7.80)" fill="#bfff40"/>
<use href="#se18" transform="matrix(42.77 0 -1.92 12.83 51.86 7.80)" fill="#e6ff19"/>
<use href="#se18" transform="matrix(39.71 0 -1.79 11.91 51.86 7.80)" fill="#fff000"/>
<use href="#se18" transform="matrix(36.66 0 -1.65 11.00 51.86 7.80)" fill="#ffc600"/>
<use href="#se18" transform="matrix(33.60 0 -1.51 10.08 51.86 7.80)" fill="#ff9a00"/>
<use href="#se18" transform="matrix(30.55 0 -1.37 9.16 51.86 7.80)" fill="#ff6e00"/>
<use href="#se18" transform="matrix(27.49 0 -1.24 8.25 51.86 7.80)" fill="#ff4b00"/>
<use href="#se18" transform="matrix(24.44 0 -1.10 7.33 51.86 7.80)" fill="#ff2800"/>
<use href="#se18" transform="matrix(21.38 0 -0.96 6.42 51.86 7.80)" fill="#ff0400"/>
<use href="#se18" transform="matrix(18.33 0 -0.82 5.50 51.86 7.80)" fill="#e90000"/>
<use href="#se18" transform="matrix(15.27 0 -0.69 4.58 51.86 7.80)" fill="#d00000"/>
<use href="#se18" transform="matrix(12.22 0 -0.55 3.67 51.86 7.80)" fill="#bd0000"/>
<use href="#se18" transform="matrix(9.16 0 -0.41 2.75 51.86 7.80)" fill="#ab0000"/>
<use href="#se18" transform="matrix(6.11 0 -0.27 1.83 51.86 7.80)" fill="#a20000"/>
<use href="#se18" transform="matrix(3.05 0 -0.14 0.92 51.86 7.80)" fill="#990000"/>
</g>
<rect x="0.00" y="0" width="1.00" height="18.60" fill="#0048ff" fill-opacity="0.95"/>
<rect x="100.05" y="0" width="1.00" height="18.60" fill="#0048ff" fill-opacity="0.95"/>
<rect x="0" y="0.00" width="101.05" height="1.00" fill="url(#rt0)" fill-opacity="0.95"/>
<rect x="0" y="17.60" width="101.05" height="1.00" fill="url(#rb0)" fill-opacity="0.95"/>
<rect x="1.00" y="0" width="1.00" height="18.60" fill="#00a0ff" fill-opacity="0.80"/>
<rect x="99.05" y="0" width="1.00" height="18.60" fill="#00a0ff" fill-opacity="0.80"/>
<rect x="0" y="1.00" width="101.05" height="1.00" fill="url(#rt1)" fill-opacity="0.80"/>
<rect x="0" y="16.60" width="101.05" height="1.00" fill="url(#rb1)" fill-opacity="0.80"/>
<rect x="2.00" y="0" width="1.10" height="18.60" fill="#00ecff" fill-opacity="0.60"/>
<rect x="97.95" y="0" width="1.10" height="18.60" fill="#00ecff" fill-opacity="0.60"/>
<rect x="0" y="2.00" width="101.05" height="1.10" fill="url(#rt2)" fill-opacity="0.60"/>
<rect x="0" y="15.50" width="101.05" height="1.10" fill="url(#rb2)" fill-opacity="0.60"/>
<rect x="3.10" y="0" width="1.20" height="18.60" fill="#00ecff" fill-opacity="0.28"/>
<rect x="96.75" y="0" width="1.20" height="18.60" fill="#00ecff" fill-opacity="0.28"/>
<rect x="0" y="3.10" width="101.05" height="1.20" fill="url(#rt2)" fill-opacity="0.28"/>
<rect x="0" y="14.30" width="101.05" height="1.20" fill="url(#rb2)" fill-opacity="0.28"/>
<line x1="-1.1" y1="5.21" x2="-1.1" y2="14.51" stroke="#2458f5" stroke-width="0.8" stroke-dasharray="4 0.8" stroke-opacity="0.8"/>
<line x1="102.15" y1="4.09" x2="102.15" y2="13.39" stroke="#2458f5" stroke-width="0.8" stroke-dasharray="4 0.8" stroke-opacity="0.8"/>
<line x1="0" y1="0" x2="101.05" y2="0" stroke="#7e7e7e" stroke-width="1.5"/>
<line x1="0" y1="18.60" x2="101.05" y2="18.60" stroke="#7e7e7e" stroke-width="1.5"/>
</g>
<line x1="158.30" y1="357.70" x2="165.98" y2="363.46" stroke="#cccccc" stroke-width="3.8"/>
<path d="M166.9 361.1l1.1 -2.4m-0.9 0.3l1.2 1m0.2 -0.4l2.4 -0.5" stroke="#33300a" stroke-width="0.7" fill="none"/>
<text x="26.80" y="309.97" font-size="9.3" text-anchor="end">20</text>
<text x="26.80" y="328.87" font-size="9.3" text-anchor="end">0</text>
<text x="26.80" y="348.37" font-size="9.3" text-anchor="end">-20</text>
<text font-size="10.3" text-anchor="middle" transform="translate(6.00 325.40) rotate(-90)" y="3.40"><tspan font-style="italic">z</tspan>/m</text>
<text x="22.00" y="359.57" font-size="9.3" text-anchor="middle">60</text>
<text x="37.70" y="371.37" font-size="9.3" text-anchor="middle">40</text>
<text x="52.30" y="382.67" font-size="9.3" text-anchor="middle">20</text>
<text x="69.10" y="394.27" font-size="9.3" text-anchor="middle">0</text>
<text x="80.10" y="405.07" font-size="9.3" text-anchor="middle">-20</text>
<text x="95.30" y="416.17" font-size="9.3" text-anchor="middle">-40</text>
<text x="110.50" y="428.07" font-size="9.3" text-anchor="middle">-60</text>
<text font-size="10.3" text-anchor="middle" transform="translate(62.00 412.20) rotate(38)" y="3.40"><tspan font-style="italic">y</tspan>/m</text>
<text x="156.40" y="411.57" font-size="9.3" text-anchor="middle">-100</text>
<text x="173.30" y="395.27" font-size="9.3" text-anchor="middle">0</text>
<text x="201.60" y="378.77" font-size="9.3" text-anchor="middle">100</text>
<text font-size="10.3" text-anchor="middle" transform="translate(185.30 412.80) rotate(-38)" y="3.40"><tspan font-style="italic">x</tspan>/m</text>
<rect x="230.70" y="245.40" width="10.50" height="168.80" fill="url(#g21)"/>
<line x1="239.60" y1="246.60" x2="241.20" y2="246.60" stroke="#303030" stroke-width="0.6"/>
<text x="244.50" y="249.67" font-size="9.3" text-anchor="start">3</text>
<line x1="239.60" y1="275.20" x2="241.20" y2="275.20" stroke="#303030" stroke-width="0.6"/>
<text x="244.50" y="278.27" font-size="9.3" text-anchor="start">2.5</text>
<line x1="239.60" y1="303.80" x2="241.20" y2="303.80" stroke="#303030" stroke-width="0.6"/>
<text x="244.50" y="306.87" font-size="9.3" text-anchor="start">2</text>
<line x1="239.60" y1="332.40" x2="241.20" y2="332.40" stroke="#303030" stroke-width="0.6"/>
<text x="244.50" y="335.47" font-size="9.3" text-anchor="start">1.5</text>
<line x1="239.60" y1="361.00" x2="241.20" y2="361.00" stroke="#303030" stroke-width="0.6"/>
<text x="244.50" y="364.07" font-size="9.3" text-anchor="start">1</text>
<line x1="239.60" y1="389.60" x2="241.20" y2="389.60" stroke="#303030" stroke-width="0.6"/>
<text x="244.50" y="392.67" font-size="9.3" text-anchor="start">0.5</text>
<text x="236.20" y="240.00" font-size="9.3" text-anchor="middle">mm</text>
<text x="137.80" y="451.60" font-size="13.3" text-anchor="middle" style="fill:#111">(<tspan font-weight="bold">c</tspan>)</text>
<line x1="320.60" y1="308.30" x2="412.60" y2="243.80" stroke="#4a4a4a" stroke-width="0.8"/>
<line x1="412.60" y1="243.80" x2="501.00" y2="310.70" stroke="#4a4a4a" stroke-width="0.8"/>
<line x1="320.60" y1="308.30" x2="320.60" y2="346.80" stroke="#4a4a4a" stroke-width="0.8"/>
<line x1="412.60" y1="243.80" x2="412.60" y2="282.00" stroke="#4a4a4a" stroke-width="0.8"/>
<line x1="501.00" y1="310.70" x2="501.00" y2="349.00" stroke="#4a4a4a" stroke-width="0.8"/>
<line x1="320.60" y1="346.80" x2="412.60" y2="282.00" stroke="#4a4a4a" stroke-width="0.8"/>
<line x1="412.60" y1="282.00" x2="501.00" y2="349.00" stroke="#4a4a4a" stroke-width="0.8"/>
<line x1="320.60" y1="346.80" x2="408.10" y2="414.00" stroke="#4a4a4a" stroke-width="0.8"/>
<line x1="408.10" y1="414.00" x2="501.00" y2="349.00" stroke="#4a4a4a" stroke-width="0.8"/>
<line x1="417.60" y1="408.30" x2="419.10" y2="409.50" stroke="#4a4a4a" stroke-width="0.6"/>
<line x1="437.20" y1="394.65" x2="438.70" y2="395.85" stroke="#4a4a4a" stroke-width="0.6"/>
<line x1="456.80" y1="381.00" x2="458.30" y2="382.20" stroke="#4a4a4a" stroke-width="0.6"/>
<line x1="476.40" y1="367.35" x2="477.90" y2="368.55" stroke="#4a4a4a" stroke-width="0.6"/>
<line x1="496.00" y1="353.70" x2="497.50" y2="354.90" stroke="#4a4a4a" stroke-width="0.6"/>
<line x1="320.60" y1="346.80" x2="319.10" y2="348.00" stroke="#4a4a4a" stroke-width="0.6"/>
<line x1="335.20" y1="358.00" x2="333.70" y2="359.20" stroke="#4a4a4a" stroke-width="0.6"/>
<line x1="349.80" y1="369.20" x2="348.30" y2="370.40" stroke="#4a4a4a" stroke-width="0.6"/>
<line x1="364.40" y1="380.40" x2="362.90" y2="381.60" stroke="#4a4a4a" stroke-width="0.6"/>
<line x1="379.00" y1="391.60" x2="377.50" y2="392.80" stroke="#4a4a4a" stroke-width="0.6"/>
<line x1="393.60" y1="402.80" x2="392.10" y2="404.00" stroke="#4a4a4a" stroke-width="0.6"/>
<line x1="408.20" y1="414.00" x2="406.70" y2="415.20" stroke="#4a4a4a" stroke-width="0.6"/>
<line x1="320.60" y1="308.30" x2="318.60" y2="308.30" stroke="#4a4a4a" stroke-width="0.6"/>
<line x1="320.60" y1="327.50" x2="318.60" y2="327.50" stroke="#4a4a4a" stroke-width="0.6"/>
<line x1="320.60" y1="346.80" x2="318.60" y2="346.80" stroke="#4a4a4a" stroke-width="0.6"/>
<g transform="matrix(0.82715 -0.56199 0 1 342.60 312.40)">
<rect x="0" y="0" width="75.80" height="19.00" fill="#1affe5"/>
<g clip-path="url(#c22)">
<use href="#se18" transform="matrix(66.53 0 -2.99 19.96 36.51 7.50)" fill="#1affe5"/>
<use href="#se18" transform="matrix(64.15 0 -2.89 19.25 36.51 7.50)" fill="#1cffe3"/>
<use href="#se18" transform="matrix(61.78 0 -2.78 18.53 36.51 7.50)" fill="#1effe1"/>
<use href="#se18" transform="matrix(59.40 0 -2.67 17.82 36.51 7.50)" fill="#20ffdf"/>
<use href="#se18" transform="matrix(57.02 0 -2.57 17.11 36.51 7.50)" fill="#24ffdb"/>
<use href="#se18" transform="matrix(54.65 0 -2.46 16.39 36.51 7.50)" fill="#29ffd6"/>
<use href="#se18" transform="matrix(52.27 0 -2.35 15.68 36.51 7.50)" fill="#2effd1"/>
<use href="#se18" transform="matrix(49.90 0 -2.25 14.97 36.51 7.50)" fill="#33ffcc"/>
<use href="#se18" transform="matrix(47.52 0 -2.14 14.26 36.51 7.50)" fill="#3bffc4"/>
<use href="#se18" transform="matrix(45.14 0 -2.03 13.54 36.51 7.50)" fill="#44ffbb"/>
<use href="#se18" transform="matrix(42.77 0 -1.92 12.83 36.51 7.50)" fill="#4effb1"/>
<use href="#se18" transform="matrix(40.39 0 -1.82 12.12 36.51 7.50)" fill="#5cffa3"/>
<use href="#se18" transform="matrix(38.02 0 -1.71 11.40 36.51 7.50)" fill="#6eff91"/>
<use href="#se18" transform="matrix(35.64 0 -1.60 10.69 36.51 7.50)" fill="#80ff7f"/>
<use href="#se18" transform="matrix(33.26 0 -1.50 9.98 36.51 7.50)" fill="#99ff66"/>
<use href="#se18" transform="matrix(30.89 0 -1.39 9.27 36.51 7.50)" fill="#b1ff4e"/>
<use href="#se18" transform="matrix(28.51 0 -1.28 8.55 36.51 7.50)" fill="#cbff34"/>
<use href="#se18" transform="matrix(26.14 0 -1.18 7.84 36.51 7.50)" fill="#e7ff18"/>
<use href="#se18" transform="matrix(23.76 0 -1.07 7.13 36.51 7.50)" fill="#fffc00"/>
<use href="#se18" transform="matrix(21.38 0 -0.96 6.42 36.51 7.50)" fill="#ffe600"/>
<use href="#se18" transform="matrix(19.01 0 -0.86 5.70 36.51 7.50)" fill="#ffd000"/>
<use href="#se18" transform="matrix(16.63 0 -0.75 4.99 36.51 7.50)" fill="#ffba00"/>
<use href="#se18" transform="matrix(14.26 0 -0.64 4.28 36.51 7.50)" fill="#ffaa00"/>
<use href="#se18" transform="matrix(11.88 0 -0.53 3.56 36.51 7.50)" fill="#ff9b00"/>
<use href="#se18" transform="matrix(9.50 0 -0.43 2.85 36.51 7.50)" fill="#ff8f00"/>
<use href="#se18" transform="matrix(7.13 0 -0.32 2.14 36.51 7.50)" fill="#ff8400"/>
<use href="#se18" transform="matrix(4.75 0 -0.21 1.43 36.51 7.50)" fill="#ff7e00"/>
<use href="#se18" transform="matrix(2.38 0 -0.11 0.71 36.51 7.50)" fill="#ff7800"/>
</g>
<rect x="0.00" y="0" width="1.00" height="19.00" fill="#0048ff" fill-opacity="0.95"/>
<rect x="74.80" y="0" width="1.00" height="19.00" fill="#0048ff" fill-opacity="0.95"/>
<rect x="0" y="0.00" width="75.80" height="1.00" fill="url(#rt0)" fill-opacity="0.95"/>
<rect x="0" y="18.00" width="75.80" height="1.00" fill="url(#rb0)" fill-opacity="0.95"/>
<rect x="1.00" y="0" width="1.00" height="19.00" fill="#00a0ff" fill-opacity="0.80"/>
<rect x="73.80" y="0" width="1.00" height="19.00" fill="#00a0ff" fill-opacity="0.80"/>
<rect x="0" y="1.00" width="75.80" height="1.00" fill="url(#rt1)" fill-opacity="0.80"/>
<rect x="0" y="17.00" width="75.80" height="1.00" fill="url(#rb1)" fill-opacity="0.80"/>
<rect x="2.00" y="0" width="1.10" height="19.00" fill="#00ecff" fill-opacity="0.60"/>
<rect x="72.70" y="0" width="1.10" height="19.00" fill="#00ecff" fill-opacity="0.60"/>
<rect x="0" y="2.00" width="75.80" height="1.10" fill="url(#rt2)" fill-opacity="0.60"/>
<rect x="0" y="15.90" width="75.80" height="1.10" fill="url(#rb2)" fill-opacity="0.60"/>
<rect x="3.10" y="0" width="1.20" height="19.00" fill="#00ecff" fill-opacity="0.28"/>
<rect x="71.50" y="0" width="1.20" height="19.00" fill="#00ecff" fill-opacity="0.28"/>
<rect x="0" y="3.10" width="75.80" height="1.20" fill="url(#rt2)" fill-opacity="0.28"/>
<rect x="0" y="14.70" width="75.80" height="1.20" fill="url(#rb2)" fill-opacity="0.28"/>
<line x1="-1.1" y1="5.32" x2="-1.1" y2="14.82" stroke="#2458f5" stroke-width="0.8" stroke-dasharray="4 0.8" stroke-opacity="0.8"/>
<line x1="76.90" y1="4.18" x2="76.90" y2="13.68" stroke="#2458f5" stroke-width="0.8" stroke-dasharray="4 0.8" stroke-opacity="0.8"/>
<line x1="0" y1="0" x2="75.80" y2="0" stroke="#7e7e7e" stroke-width="1.5"/>
<line x1="0" y1="19.00" x2="75.80" y2="19.00" stroke="#7e7e7e" stroke-width="1.5"/>
</g>
<line x1="372.80" y1="300.30" x2="387.84" y2="311.58" stroke="#cccccc" stroke-width="3.8"/>
<g transform="matrix(0.83552 -0.54947 0 1 368.20 316.40)">
<rect x="0" y="0" width="48.59" height="19.00" fill="#00a8ff"/>
<g clip-path="url(#c23)">
<use href="#se18" transform="matrix(57.02 0 -2.57 17.11 23.27 6.50)" fill="#00a9ff"/>
<use href="#se18" transform="matrix(54.99 0 -2.47 16.50 23.27 6.50)" fill="#00a9ff"/>
<use href="#se18" transform="matrix(52.95 0 -2.38 15.89 23.27 6.50)" fill="#00aaff"/>
<use href="#se18" transform="matrix(50.91 0 -2.29 15.27 23.27 6.50)" fill="#00abff"/>
<use href="#se18" transform="matrix(48.88 0 -2.20 14.66 23.27 6.50)" fill="#00acff"/>
<use href="#se18" transform="matrix(46.84 0 -2.11 14.05 23.27 6.50)" fill="#00adff"/>
<use href="#se18" transform="matrix(44.80 0 -2.02 13.44 23.27 6.50)" fill="#00afff"/>
<use href="#se18" transform="matrix(42.77 0 -1.92 12.83 23.27 6.50)" fill="#00b1ff"/>
<use href="#se18" transform="matrix(40.73 0 -1.83 12.22 23.27 6.50)" fill="#00b4ff"/>
<use href="#se18" transform="matrix(38.69 0 -1.74 11.61 23.27 6.50)" fill="#00b7ff"/>
<use href="#se18" transform="matrix(36.66 0 -1.65 11.00 23.27 6.50)" fill="#00baff"/>
<use href="#se18" transform="matrix(34.62 0 -1.56 10.39 23.27 6.50)" fill="#00bfff"/>
<use href="#se18" transform="matrix(32.59 0 -1.47 9.78 23.27 6.50)" fill="#00c4ff"/>
<use href="#se18" transform="matrix(30.55 0 -1.37 9.16 23.27 6.50)" fill="#00caff"/>
<use href="#se18" transform="matrix(28.51 0 -1.28 8.55 23.27 6.50)" fill="#00d3ff"/>
<use href="#se18" transform="matrix(26.48 0 -1.19 7.94 23.27 6.50)" fill="#00dbff"/>
<use href="#se18" transform="matrix(24.44 0 -1.10 7.33 23.27 6.50)" fill="#00e4ff"/>
<use href="#se18" transform="matrix(22.40 0 -1.01 6.72 23.27 6.50)" fill="#00edff"/>
<use href="#se18" transform="matrix(20.37 0 -0.92 6.11 23.27 6.50)" fill="#00f6ff"/>
<use href="#se18" transform="matrix(18.33 0 -0.82 5.50 23.27 6.50)" fill="#00fdff"/>
<use href="#se18" transform="matrix(16.29 0 -0.73 4.89 23.27 6.50)" fill="#05fffa"/>
<use href="#se18" transform="matrix(14.26 0 -0.64 4.28 23.27 6.50)" fill="#0dfff2"/>
<use href="#se18" transform="matrix(12.22 0 -0.55 3.67 23.27 6.50)" fill="#12ffed"/>
<use href="#se18" transform="matrix(10.18 0 -0.46 3.05 23.27 6.50)" fill="#17ffe8"/>
<use href="#se18" transform="matrix(8.15 0 -0.37 2.44 23.27 6.50)" fill="#1bffe4"/>
<use href="#se18" transform="matrix(6.11 0 -0.27 1.83 23.27 6.50)" fill="#1fffe0"/>
<use href="#se18" transform="matrix(4.07 0 -0.18 1.22 23.27 6.50)" fill="#21ffde"/>
<use href="#se18" transform="matrix(2.04 0 -0.09 0.61 23.27 6.50)" fill="#23ffdc"/>
</g>
<rect x="0.00" y="0" width="1.00" height="19.00" fill="#0048ff" fill-opacity="0.95"/>
<rect x="47.59" y="0" width="1.00" height="19.00" fill="#0048ff" fill-opacity="0.95"/>
<rect x="0" y="0.00" width="48.59" height="1.00" fill="url(#rt0)" fill-opacity="0.95"/>
<rect x="0" y="18.00" width="48.59" height="1.00" fill="url(#rb0)" fill-opacity="0.95"/>
<rect x="1.00" y="0" width="1.00" height="19.00" fill="#00a0ff" fill-opacity="0.80"/>
<rect x="46.59" y="0" width="1.00" height="19.00" fill="#00a0ff" fill-opacity="0.80"/>
<rect x="0" y="1.00" width="48.59" height="1.00" fill="url(#rt1)" fill-opacity="0.80"/>
<rect x="0" y="17.00" width="48.59" height="1.00" fill="url(#rb1)" fill-opacity="0.80"/>
<rect x="2.00" y="0" width="1.10" height="19.00" fill="#00ecff" fill-opacity="0.60"/>
<rect x="45.49" y="0" width="1.10" height="19.00" fill="#00ecff" fill-opacity="0.60"/>
<rect x="0" y="2.00" width="48.59" height="1.10" fill="url(#rt2)" fill-opacity="0.60"/>
<rect x="0" y="15.90" width="48.59" height="1.10" fill="url(#rb2)" fill-opacity="0.60"/>
<rect x="3.10" y="0" width="1.20" height="19.00" fill="#00ecff" fill-opacity="0.28"/>
<rect x="44.29" y="0" width="1.20" height="19.00" fill="#00ecff" fill-opacity="0.28"/>
<rect x="0" y="3.10" width="48.59" height="1.20" fill="url(#rt2)" fill-opacity="0.28"/>
<rect x="0" y="14.70" width="48.59" height="1.20" fill="url(#rb2)" fill-opacity="0.28"/>
<line x1="-1.1" y1="5.32" x2="-1.1" y2="14.82" stroke="#2458f5" stroke-width="0.8" stroke-dasharray="4 0.8" stroke-opacity="0.8"/>
<line x1="49.69" y1="4.18" x2="49.69" y2="13.68" stroke="#2458f5" stroke-width="0.8" stroke-dasharray="4 0.8" stroke-opacity="0.8"/>
<line x1="0" y1="0" x2="48.59" y2="0" stroke="#7e7e7e" stroke-width="1.5"/>
<line x1="0" y1="19.00" x2="48.59" y2="19.00" stroke="#7e7e7e" stroke-width="1.5"/>
</g>
<line x1="387.64" y1="311.56" x2="402.68" y2="322.84" stroke="#cccccc" stroke-width="3.8"/>
<g transform="matrix(0.84436 -0.53577 0 1 380.50 328.00)">
<rect x="0" y="0" width="52.82" height="19.00" fill="#00a8ff"/>
<g clip-path="url(#c24)">
<use href="#se18" transform="matrix(57.02 0 -2.57 17.11 26.03 6.50)" fill="#00a9ff"/>
<use href="#se18" transform="matrix(54.99 0 -2.47 16.50 26.03 6.50)" fill="#00a9ff"/>
<use href="#se18" transform="matrix(52.95 0 -2.38 15.89 26.03 6.50)" fill="#00aaff"/>
<use href="#se18" transform="matrix(50.91 0 -2.29 15.27 26.03 6.50)" fill="#00abff"/>
<use href="#se18" transform="matrix(48.88 0 -2.20 14.66 26.03 6.50)" fill="#00acff"/>
<use href="#se18" transform="matrix(46.84 0 -2.11 14.05 26.03 6.50)" fill="#00adff"/>
<use href="#se18" transform="matrix(44.80 0 -2.02 13.44 26.03 6.50)" fill="#00afff"/>
<use href="#se18" transform="matrix(42.77 0 -1.92 12.83 26.03 6.50)" fill="#00b1ff"/>
<use href="#se18" transform="matrix(40.73 0 -1.83 12.22 26.03 6.50)" fill="#00b4ff"/>
<use href="#se18" transform="matrix(38.69 0 -1.74 11.61 26.03 6.50)" fill="#00b7ff"/>
<use href="#se18" transform="matrix(36.66 0 -1.65 11.00 26.03 6.50)" fill="#00baff"/>
<use href="#se18" transform="matrix(34.62 0 -1.56 10.39 26.03 6.50)" fill="#00bfff"/>
<use href="#se18" transform="matrix(32.59 0 -1.47 9.78 26.03 6.50)" fill="#00c4ff"/>
<use href="#se18" transform="matrix(30.55 0 -1.37 9.16 26.03 6.50)" fill="#00caff"/>
<use href="#se18" transform="matrix(28.51 0 -1.28 8.55 26.03 6.50)" fill="#00d3ff"/>
<use href="#se18" transform="matrix(26.48 0 -1.19 7.94 26.03 6.50)" fill="#00dbff"/>
<use href="#se18" transform="matrix(24.44 0 -1.10 7.33 26.03 6.50)" fill="#00e4ff"/>
<use href="#se18" transform="matrix(22.40 0 -1.01 6.72 26.03 6.50)" fill="#00edff"/>
<use href="#se18" transform="matrix(20.37 0 -0.92 6.11 26.03 6.50)" fill="#00f6ff"/>
<use href="#se18" transform="matrix(18.33 0 -0.82 5.50 26.03 6.50)" fill="#00fdff"/>
<use href="#se18" transform="matrix(16.29 0 -0.73 4.89 26.03 6.50)" fill="#05fffa"/>
<use href="#se18" transform="matrix(14.26 0 -0.64 4.28 26.03 6.50)" fill="#0dfff2"/>
<use href="#se18" transform="matrix(12.22 0 -0.55 3.67 26.03 6.50)" fill="#12ffed"/>
<use href="#se18" transform="matrix(10.18 0 -0.46 3.05 26.03 6.50)" fill="#17ffe8"/>
<use href="#se18" transform="matrix(8.15 0 -0.37 2.44 26.03 6.50)" fill="#1bffe4"/>
<use href="#se18" transform="matrix(6.11 0 -0.27 1.83 26.03 6.50)" fill="#1fffe0"/>
<use href="#se18" transform="matrix(4.07 0 -0.18 1.22 26.03 6.50)" fill="#21ffde"/>
<use href="#se18" transform="matrix(2.04 0 -0.09 0.61 26.03 6.50)" fill="#23ffdc"/>
</g>
<rect x="0.00" y="0" width="1.00" height="19.00" fill="#0048ff" fill-opacity="0.95"/>
<rect x="51.82" y="0" width="1.00" height="19.00" fill="#0048ff" fill-opacity="0.95"/>
<rect x="0" y="0.00" width="52.82" height="1.00" fill="url(#rt0)" fill-opacity="0.95"/>
<rect x="0" y="18.00" width="52.82" height="1.00" fill="url(#rb0)" fill-opacity="0.95"/>
<rect x="1.00" y="0" width="1.00" height="19.00" fill="#00a0ff" fill-opacity="0.80"/>
<rect x="50.82" y="0" width="1.00" height="19.00" fill="#00a0ff" fill-opacity="0.80"/>
<rect x="0" y="1.00" width="52.82" height="1.00" fill="url(#rt1)" fill-opacity="0.80"/>
<rect x="0" y="17.00" width="52.82" height="1.00" fill="url(#rb1)" fill-opacity="0.80"/>
<rect x="2.00" y="0" width="1.10" height="19.00" fill="#00ecff" fill-opacity="0.60"/>
<rect x="49.72" y="0" width="1.10" height="19.00" fill="#00ecff" fill-opacity="0.60"/>
<rect x="0" y="2.00" width="52.82" height="1.10" fill="url(#rt2)" fill-opacity="0.60"/>
<rect x="0" y="15.90" width="52.82" height="1.10" fill="url(#rb2)" fill-opacity="0.60"/>
<rect x="3.10" y="0" width="1.20" height="19.00" fill="#00ecff" fill-opacity="0.28"/>
<rect x="48.52" y="0" width="1.20" height="19.00" fill="#00ecff" fill-opacity="0.28"/>
<rect x="0" y="3.10" width="52.82" height="1.20" fill="url(#rt2)" fill-opacity="0.28"/>
<rect x="0" y="14.70" width="52.82" height="1.20" fill="url(#rb2)" fill-opacity="0.28"/>
<line x1="-1.1" y1="5.32" x2="-1.1" y2="14.82" stroke="#2458f5" stroke-width="0.8" stroke-dasharray="4 0.8" stroke-opacity="0.8"/>
<line x1="53.92" y1="4.18" x2="53.92" y2="13.68" stroke="#2458f5" stroke-width="0.8" stroke-dasharray="4 0.8" stroke-opacity="0.8"/>
<line x1="0" y1="0" x2="52.82" y2="0" stroke="#7e7e7e" stroke-width="1.5"/>
<line x1="0" y1="19.00" x2="52.82" y2="19.00" stroke="#7e7e7e" stroke-width="1.5"/>
</g>
<line x1="402.48" y1="322.82" x2="417.52" y2="334.10" stroke="#cccccc" stroke-width="3.8"/>
<g transform="matrix(0.84217 -0.53922 0 1 396.00 339.00)">
<rect x="0" y="0" width="52.48" height="19.00" fill="#00a8ff"/>
<g clip-path="url(#c25)">
<use href="#se18" transform="matrix(57.02 0 -2.57 17.11 25.32 6.50)" fill="#00a9ff"/>
<use href="#se18" transform="matrix(54.99 0 -2.47 16.50 25.32 6.50)" fill="#00a9ff"/>
<use href="#se18" transform="matrix(52.95 0 -2.38 15.89 25.32 6.50)" fill="#00aaff"/>
<use href="#se18" transform="matrix(50.91 0 -2.29 15.27 25.32 6.50)" fill="#00abff"/>
<use href="#se18" transform="matrix(48.88 0 -2.20 14.66 25.32 6.50)" fill="#00acff"/>
<use href="#se18" transform="matrix(46.84 0 -2.11 14.05 25.32 6.50)" fill="#00aeff"/>
<use href="#se18" transform="matrix(44.80 0 -2.02 13.44 25.32 6.50)" fill="#00b0ff"/>
<use href="#se18" transform="matrix(42.77 0 -1.92 12.83 25.32 6.50)" fill="#00b1ff"/>
<use href="#se18" transform="matrix(40.73 0 -1.83 12.22 25.32 6.50)" fill="#00b4ff"/>
<use href="#se18" transform="matrix(38.69 0 -1.74 11.61 25.32 6.50)" fill="#00b8ff"/>
<use href="#se18" transform="matrix(36.66 0 -1.65 11.00 25.32 6.50)" fill="#00bbff"/>
<use href="#se18" transform="matrix(34.62 0 -1.56 10.39 25.32 6.50)" fill="#00c0ff"/>
<use href="#se18" transform="matrix(32.59 0 -1.47 9.78 25.32 6.50)" fill="#00c7ff"/>
<use href="#se18" transform="matrix(30.55 0 -1.37 9.16 25.32 6.50)" fill="#00cdff"/>
<use href="#se18" transform="matrix(28.51 0 -1.28 8.55 25.32 6.50)" fill="#00d6ff"/>
<use href="#se18" transform="matrix(26.48 0 -1.19 7.94 25.32 6.50)" fill="#00dfff"/>
<use href="#se18" transform="matrix(24.44 0 -1.10 7.33 25.32 6.50)" fill="#00e8ff"/>
<use href="#se18" transform="matrix(22.40 0 -1.01 6.72 25.32 6.50)" fill="#00f2ff"/>
<use href="#se18" transform="matrix(20.37 0 -0.92 6.11 25.32 6.50)" fill="#00fcff"/>
<use href="#se18" transform="matrix(18.33 0 -0.82 5.50 25.32 6.50)" fill="#05fffa"/>
<use href="#se18" transform="matrix(16.29 0 -0.73 4.89 25.32 6.50)" fill="#0dfff2"/>
<use href="#se18" transform="matrix(14.26 0 -0.64 4.28 25.32 6.50)" fill="#15ffea"/>
<use href="#se18" transform="matrix(12.22 0 -0.55 3.67 25.32 6.50)" fill="#1bffe4"/>
<use href="#se18" transform="matrix(10.18 0 -0.46 3.05 25.32 6.50)" fill="#20ffdf"/>
<use href="#se18" transform="matrix(8.15 0 -0.37 2.44 25.32 6.50)" fill="#25ffda"/>
<use href="#se18" transform="matrix(6.11 0 -0.27 1.83 25.32 6.50)" fill="#29ffd6"/>
<use href="#se18" transform="matrix(4.07 0 -0.18 1.22 25.32 6.50)" fill="#2bffd4"/>
<use href="#se18" transform="matrix(2.04 0 -0.09 0.61 25.32 6.50)" fill="#2dffd2"/>
</g>
<rect x="0.00" y="0" width="1.00" height="19.00" fill="#0048ff" fill-opacity="0.95"/>
<rect x="51.48" y="0" width="1.00" height="19.00" fill="#0048ff" fill-opacity="0.95"/>
<rect x="0" y="0.00" width="52.48" height="1.00" fill="url(#rt0)" fill-opacity="0.95"/>
<rect x="0" y="18.00" width="52.48" height="1.00" fill="url(#rb0)" fill-opacity="0.95"/>
<rect x="1.00" y="0" width="1.00" height="19.00" fill="#00a0ff" fill-opacity="0.80"/>
<rect x="50.48" y="0" width="1.00" height="19.00" fill="#00a0ff" fill-opacity="0.80"/>
<rect x="0" y="1.00" width="52.48" height="1.00" fill="url(#rt1)" fill-opacity="0.80"/>
<rect x="0" y="17.00" width="52.48" height="1.00" fill="url(#rb1)" fill-opacity="0.80"/>
<rect x="2.00" y="0" width="1.10" height="19.00" fill="#00ecff" fill-opacity="0.60"/>
<rect x="49.38" y="0" width="1.10" height="19.00" fill="#00ecff" fill-opacity="0.60"/>
<rect x="0" y="2.00" width="52.48" height="1.10" fill="url(#rt2)" fill-opacity="0.60"/>
<rect x="0" y="15.90" width="52.48" height="1.10" fill="url(#rb2)" fill-opacity="0.60"/>
<rect x="3.10" y="0" width="1.20" height="19.00" fill="#00ecff" fill-opacity="0.28"/>
<rect x="48.18" y="0" width="1.20" height="19.00" fill="#00ecff" fill-opacity="0.28"/>
<rect x="0" y="3.10" width="52.48" height="1.20" fill="url(#rt2)" fill-opacity="0.28"/>
<rect x="0" y="14.70" width="52.48" height="1.20" fill="url(#rb2)" fill-opacity="0.28"/>
<line x1="-1.1" y1="5.32" x2="-1.1" y2="14.82" stroke="#2458f5" stroke-width="0.8" stroke-dasharray="4 0.8" stroke-opacity="0.8"/>
<line x1="53.58" y1="4.18" x2="53.58" y2="13.68" stroke="#2458f5" stroke-width="0.8" stroke-dasharray="4 0.8" stroke-opacity="0.8"/>
<line x1="0" y1="0" x2="52.48" y2="0" stroke="#7e7e7e" stroke-width="1.5"/>
<line x1="0" y1="19.00" x2="52.48" y2="19.00" stroke="#7e7e7e" stroke-width="1.5"/>
</g>
<line x1="417.32" y1="334.08" x2="432.36" y2="345.36" stroke="#cccccc" stroke-width="3.8"/>
<g transform="matrix(0.83004 -0.55771 0 1 407.30 353.20)">
<rect x="0" y="0" width="61.32" height="19.00" fill="#00bdff"/>
<g clip-path="url(#c26)">
<use href="#se18" transform="matrix(57.02 0 -2.57 17.11 31.95 6.50)" fill="#00bdff"/>
<use href="#se18" transform="matrix(54.99 0 -2.47 16.50 31.95 6.50)" fill="#00bfff"/>
<use href="#se18" transform="matrix(52.95 0 -2.38 15.89 31.95 6.50)" fill="#00c0ff"/>
<use href="#se18" transform="matrix(50.91 0 -2.29 15.27 31.95 6.50)" fill="#00c1ff"/>
<use href="#se18" transform="matrix(48.88 0 -2.20 14.66 31.95 6.50)" fill="#00c4ff"/>
<use href="#se18" transform="matrix(46.84 0 -2.11 14.05 31.95 6.50)" fill="#00c7ff"/>
<use href="#se18" transform="matrix(44.80 0 -2.02 13.44 31.95 6.50)" fill="#00caff"/>
<use href="#se18" transform="matrix(42.77 0 -1.92 12.83 31.95 6.50)" fill="#00cdff"/>
<use href="#se18" transform="matrix(40.73 0 -1.83 12.22 31.95 6.50)" fill="#00d3ff"/>
<use href="#se18" transform="matrix(38.69 0 -1.74 11.61 31.95 6.50)" fill="#00d9ff"/>
<use href="#se18" transform="matrix(36.66 0 -1.65 11.00 31.95 6.50)" fill="#00dfff"/>
<use href="#se18" transform="matrix(34.62 0 -1.56 10.39 31.95 6.50)" fill="#00e9ff"/>
<use href="#se18" transform="matrix(32.59 0 -1.47 9.78 31.95 6.50)" fill="#00f5ff"/>
<use href="#se18" transform="matrix(30.55 0 -1.37 9.16 31.95 6.50)" fill="#02fffd"/>
<use href="#se18" transform="matrix(28.51 0 -1.28 8.55 31.95 6.50)" fill="#12ffed"/>
<use href="#se18" transform="matrix(26.48 0 -1.19 7.94 31.95 6.50)" fill="#23ffdc"/>
<use href="#se18" transform="matrix(24.44 0 -1.10 7.33 31.95 6.50)" fill="#34ffcb"/>
<use href="#se18" transform="matrix(22.40 0 -1.01 6.72 31.95 6.50)" fill="#46ffb9"/>
<use href="#se18" transform="matrix(20.37 0 -0.92 6.11 31.95 6.50)" fill="#59ffa6"/>
<use href="#se18" transform="matrix(18.33 0 -0.82 5.50 31.95 6.50)" fill="#67ff98"/>
<use href="#se18" transform="matrix(16.29 0 -0.73 4.89 31.95 6.50)" fill="#76ff89"/>
<use href="#se18" transform="matrix(14.26 0 -0.64 4.28 31.95 6.50)" fill="#84ff7b"/>
<use href="#se18" transform="matrix(12.22 0 -0.55 3.67 31.95 6.50)" fill="#8fff70"/>
<use href="#se18" transform="matrix(10.18 0 -0.46 3.05 31.95 6.50)" fill="#9aff65"/>
<use href="#se18" transform="matrix(8.15 0 -0.37 2.44 31.95 6.50)" fill="#a1ff5e"/>
<use href="#se18" transform="matrix(6.11 0 -0.27 1.83 31.95 6.50)" fill="#a9ff56"/>
<use href="#se18" transform="matrix(4.07 0 -0.18 1.22 31.95 6.50)" fill="#adff52"/>
<use href="#se18" transform="matrix(2.04 0 -0.09 0.61 31.95 6.50)" fill="#b1ff4e"/>
</g>
<rect x="0.00" y="0" width="1.00" height="19.00" fill="#0048ff" fill-opacity="0.95"/>
<rect x="60.32" y="0" width="1.00" height="19.00" fill="#0048ff" fill-opacity="0.95"/>
<rect x="0" y="0.00" width="61.32" height="1.00" fill="url(#rt0)" fill-opacity="0.95"/>
<rect x="0" y="18.00" width="61.32" height="1.00" fill="url(#rb0)" fill-opacity="0.95"/>
<rect x="1.00" y="0" width="1.00" height="19.00" fill="#00a0ff" fill-opacity="0.80"/>
<rect x="59.32" y="0" width="1.00" height="19.00" fill="#00a0ff" fill-opacity="0.80"/>
<rect x="0" y="1.00" width="61.32" height="1.00" fill="url(#rt1)" fill-opacity="0.80"/>
<rect x="0" y="17.00" width="61.32" height="1.00" fill="url(#rb1)" fill-opacity="0.80"/>
<rect x="2.00" y="0" width="1.10" height="19.00" fill="#00ecff" fill-opacity="0.60"/>
<rect x="58.22" y="0" width="1.10" height="19.00" fill="#00ecff" fill-opacity="0.60"/>
<rect x="0" y="2.00" width="61.32" height="1.10" fill="url(#rt2)" fill-opacity="0.60"/>
<rect x="0" y="15.90" width="61.32" height="1.10" fill="url(#rb2)" fill-opacity="0.60"/>
<rect x="3.10" y="0" width="1.20" height="19.00" fill="#00ecff" fill-opacity="0.28"/>
<rect x="57.02" y="0" width="1.20" height="19.00" fill="#00ecff" fill-opacity="0.28"/>
<rect x="0" y="3.10" width="61.32" height="1.20" fill="url(#rt2)" fill-opacity="0.28"/>
<rect x="0" y="14.70" width="61.32" height="1.20" fill="url(#rb2)" fill-opacity="0.28"/>
<line x1="-1.1" y1="5.32" x2="-1.1" y2="14.82" stroke="#2458f5" stroke-width="0.8" stroke-dasharray="4 0.8" stroke-opacity="0.8"/>
<line x1="62.42" y1="4.18" x2="62.42" y2="13.68" stroke="#2458f5" stroke-width="0.8" stroke-dasharray="4 0.8" stroke-opacity="0.8"/>
<line x1="0" y1="0" x2="61.32" y2="0" stroke="#7e7e7e" stroke-width="1.5"/>
<line x1="0" y1="19.00" x2="61.32" y2="19.00" stroke="#7e7e7e" stroke-width="1.5"/>
</g>
<line x1="432.16" y1="345.34" x2="447.20" y2="356.62" stroke="#cccccc" stroke-width="3.8"/>
<g transform="matrix(0.82342 -0.56744 0 1 405.80 376.60)">
<rect x="0" y="0" width="102.74" height="19.00" fill="#1affe5"/>
<g clip-path="url(#c27)">
<use href="#se22" transform="matrix(65.25 0 -2.15 14.36 51.04 6.50)" fill="#1fffe0"/>
<use href="#se22" transform="matrix(62.92 0 -2.08 13.84 51.04 6.50)" fill="#2affd5"/>
<use href="#se22" transform="matrix(60.59 0 -2.00 13.33 51.04 6.50)" fill="#35ffca"/>
<use href="#se22" transform="matrix(58.26 0 -1.92 12.82 51.04 6.50)" fill="#41ffbe"/>
<use href="#se22" transform="matrix(55.93 0 -1.85 12.30 51.04 6.50)" fill="#57ffa8"/>
<use href="#se22" transform="matrix(53.60 0 -1.77 11.79 51.04 6.50)" fill="#71ff8e"/>
<use href="#se22" transform="matrix(51.27 0 -1.69 11.28 51.04 6.50)" fill="#8bff74"/>
<use href="#se22" transform="matrix(48.94 0 -1.61 10.77 51.04 6.50)" fill="#bdff42"/>
<use href="#se22" transform="matrix(46.61 0 -1.54 10.25 51.04 6.50)" fill="#f7ff08"/>
<use href="#se22" transform="matrix(44.28 0 -1.46 9.74 51.04 6.50)" fill="#ffc700"/>
<use href="#se22" transform="matrix(41.95 0 -1.38 9.23 51.04 6.50)" fill="#ff8400"/>
<use href="#se22" transform="matrix(39.62 0 -1.31 8.72 51.04 6.50)" fill="#ff5100"/>
<use href="#se22" transform="matrix(37.29 0 -1.23 8.20 51.04 6.50)" fill="#ff4300"/>
<use href="#se22" transform="matrix(34.96 0 -1.15 7.69 51.04 6.50)" fill="#ff3500"/>
<use href="#se22" transform="matrix(32.62 0 -1.08 7.18 51.04 6.50)" fill="#ff2700"/>
<use href="#se22" transform="matrix(30.29 0 -1.00 6.66 51.04 6.50)" fill="#ff1900"/>
<use href="#se22" transform="matrix(27.96 0 -0.92 6.15 51.04 6.50)" fill="#ff0b00"/>
<use href="#se22" transform="matrix(25.63 0 -0.85 5.64 51.04 6.50)" fill="#fe0000"/>
<use href="#se22" transform="matrix(23.30 0 -0.77 5.13 51.04 6.50)" fill="#f20000"/>
<use href="#se22" transform="matrix(20.97 0 -0.69 4.61 51.04 6.50)" fill="#e60000"/>
<use href="#se22" transform="matrix(18.64 0 -0.62 4.10 51.04 6.50)" fill="#da0000"/>
<use href="#se22" transform="matrix(16.31 0 -0.54 3.59 51.04 6.50)" fill="#ce0000"/>
<use href="#se22" transform="matrix(13.98 0 -0.46 3.08 51.04 6.50)" fill="#c20000"/>
<use href="#se22" transform="matrix(11.65 0 -0.38 2.56 51.04 6.50)" fill="#b60000"/>
<use href="#se22" transform="matrix(9.32 0 -0.31 2.05 51.04 6.50)" fill="#a90000"/>
<use href="#se22" transform="matrix(6.99 0 -0.23 1.54 51.04 6.50)" fill="#9f0000"/>
<use href="#se22" transform="matrix(4.66 0 -0.15 1.03 51.04 6.50)" fill="#980000"/>
<use href="#se22" transform="matrix(2.33 0 -0.08 0.51 51.04 6.50)" fill="#920000"/>
</g>
<rect x="0.00" y="0" width="1.00" height="19.00" fill="#0048ff" fill-opacity="0.95"/>
<rect x="101.74" y="0" width="1.00" height="19.00" fill="#0048ff" fill-opacity="0.95"/>
<rect x="0" y="0.00" width="102.74" height="1.00" fill="url(#rt0)" fill-opacity="0.95"/>
<rect x="0" y="18.00" width="102.74" height="1.00" fill="url(#rb0)" fill-opacity="0.95"/>
<rect x="1.00" y="0" width="1.00" height="19.00" fill="#00a0ff" fill-opacity="0.80"/>
<rect x="100.74" y="0" width="1.00" height="19.00" fill="#00a0ff" fill-opacity="0.80"/>
<rect x="0" y="1.00" width="102.74" height="1.00" fill="url(#rt1)" fill-opacity="0.80"/>
<rect x="0" y="17.00" width="102.74" height="1.00" fill="url(#rb1)" fill-opacity="0.80"/>
<rect x="2.00" y="0" width="1.10" height="19.00" fill="#00ecff" fill-opacity="0.60"/>
<rect x="99.64" y="0" width="1.10" height="19.00" fill="#00ecff" fill-opacity="0.60"/>
<rect x="0" y="2.00" width="102.74" height="1.10" fill="url(#rt2)" fill-opacity="0.60"/>
<rect x="0" y="15.90" width="102.74" height="1.10" fill="url(#rb2)" fill-opacity="0.60"/>
<rect x="3.10" y="0" width="1.20" height="19.00" fill="#00ecff" fill-opacity="0.28"/>
<rect x="98.44" y="0" width="1.20" height="19.00" fill="#00ecff" fill-opacity="0.28"/>
<rect x="0" y="3.10" width="102.74" height="1.20" fill="url(#rt2)" fill-opacity="0.28"/>
<rect x="0" y="14.70" width="102.74" height="1.20" fill="url(#rb2)" fill-opacity="0.28"/>
<line x1="-1.1" y1="5.32" x2="-1.1" y2="14.82" stroke="#2458f5" stroke-width="0.8" stroke-dasharray="4 0.8" stroke-opacity="0.8"/>
<line x1="103.84" y1="4.18" x2="103.84" y2="13.68" stroke="#2458f5" stroke-width="0.8" stroke-dasharray="4 0.8" stroke-opacity="0.8"/>
<line x1="0" y1="0" x2="102.74" y2="0" stroke="#7e7e7e" stroke-width="1.5"/>
<line x1="0" y1="19.00" x2="102.74" y2="19.00" stroke="#7e7e7e" stroke-width="1.5"/>
</g>
<line x1="447.00" y1="356.60" x2="454.68" y2="362.36" stroke="#cccccc" stroke-width="3.8"/>
<path d="M455.6 360.0l1.1 -2.4m-0.9 0.3l1.2 1m0.2 -0.4l2.4 -0.5" stroke="#33300a" stroke-width="0.7" fill="none"/>
<text x="315.00" y="308.87" font-size="9.3" text-anchor="end">20</text>
<text x="315.00" y="328.07" font-size="9.3" text-anchor="end">0</text>
<text x="315.00" y="347.27" font-size="9.3" text-anchor="end">-20</text>
<text font-size="10.3" text-anchor="middle" transform="translate(294.00 327.00) rotate(-90)" y="3.40"><tspan font-style="italic">z</tspan>/m</text>
<text x="310.50" y="359.07" font-size="9.3" text-anchor="middle">60</text>
<text x="325.60" y="370.27" font-size="9.3" text-anchor="middle">40</text>
<text x="340.60" y="382.07" font-size="9.3" text-anchor="middle">20</text>
<text x="357.20" y="392.87" font-size="9.3" text-anchor="middle">0</text>
<text x="368.20" y="404.67" font-size="9.3" text-anchor="middle">-20</text>
<text x="383.30" y="415.67" font-size="9.3" text-anchor="middle">-40</text>
<text x="397.60" y="427.17" font-size="9.3" text-anchor="middle">-60</text>
<text font-size="10.3" text-anchor="middle" transform="translate(349.00 411.00) rotate(38)" y="3.40"><tspan font-style="italic">y</tspan>/m</text>
<text x="431.40" y="421.37" font-size="9.3" text-anchor="middle">-200</text>
<text x="449.00" y="407.87" font-size="9.3" text-anchor="middle">-100</text>
<text x="462.30" y="394.07" font-size="9.3" text-anchor="middle">0</text>
<text x="486.60" y="380.27" font-size="9.3" text-anchor="middle">100</text>
<text x="505.40" y="366.97" font-size="9.3" text-anchor="middle">200</text>
<text font-size="10.3" text-anchor="middle" transform="translate(474.80 412.30) rotate(-38)" y="3.40"><tspan font-style="italic">x</tspan>/m</text>
<rect x="520.10" y="243.80" width="10.50" height="169.90" fill="url(#g28)"/>
<line x1="529.00" y1="258.00" x2="530.60" y2="258.00" stroke="#303030" stroke-width="0.6"/>
<text x="533.80" y="261.07" font-size="9.3" text-anchor="start">3.5</text>
<line x1="529.00" y1="280.60" x2="530.60" y2="280.60" stroke="#303030" stroke-width="0.6"/>
<text x="533.80" y="283.67" font-size="9.3" text-anchor="start">3</text>
<line x1="529.00" y1="303.20" x2="530.60" y2="303.20" stroke="#303030" stroke-width="0.6"/>
<text x="533.80" y="306.27" font-size="9.3" text-anchor="start">2.5</text>
<line x1="529.00" y1="325.80" x2="530.60" y2="325.80" stroke="#303030" stroke-width="0.6"/>
<text x="533.80" y="328.87" font-size="9.3" text-anchor="start">2</text>
<line x1="529.00" y1="348.60" x2="530.60" y2="348.60" stroke="#303030" stroke-width="0.6"/>
<text x="533.80" y="351.67" font-size="9.3" text-anchor="start">1.5</text>
<line x1="529.00" y1="371.30" x2="530.60" y2="371.30" stroke="#303030" stroke-width="0.6"/>
<text x="533.80" y="374.37" font-size="9.3" text-anchor="start">1</text>
<line x1="529.00" y1="393.90" x2="530.60" y2="393.90" stroke="#303030" stroke-width="0.6"/>
<text x="533.80" y="396.97" font-size="9.3" text-anchor="start">0.5</text>
<text x="525.80" y="238.20" font-size="9.3" text-anchor="middle">mm</text>
<text x="421.70" y="451.60" font-size="13.3" text-anchor="middle" style="fill:#111">(<tspan font-weight="bold">d</tspan>)</text>
</svg>
</body></html>
